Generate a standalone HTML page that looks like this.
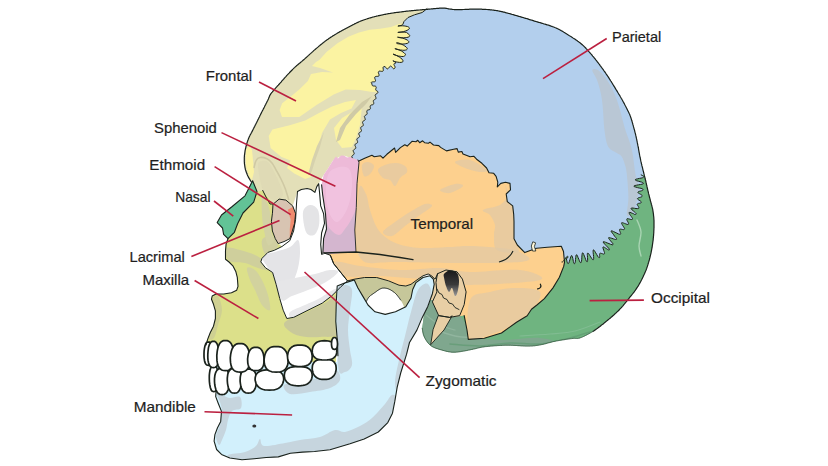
<!DOCTYPE html>
<html><head><meta charset="utf-8"><style>
html,body{margin:0;padding:0;background:#fff;}
svg{display:block;}
text{font-family:"Liberation Sans",sans-serif;font-size:15px;fill:#1e1e1e;stroke:#1e1e1e;stroke-width:0.22px;}
</style></head><body>
<svg width="828" height="466" viewBox="0 0 828 466">
<defs><clipPath id="c1"><path d="M426,9.4L426.7,9.3L427.5,9.3L428.3,9.2L429,9.1L429.8,9.1L430.6,9L431.4,8.9L432.1,8.8L432.9,8.8L433.7,8.7L434.5,8.6L435.2,8.6L436,8.5L436.7,8.4L437.4,8.4L438.2,8.3L438.8,8.3L439.5,8.2L440.2,8.2L440.8,8.2L441.4,8.1L442,8.1L442.5,8.1L443.5,8.1L444.4,8.1L445.2,8.2L445.9,8.3L446.6,8.4L447.2,8.5L447.8,8.7L448.3,8.8L448.9,8.9L449.5,9L450.2,9.1L450.9,9.2L451.5,9.2L452,9.3L452.5,9.4L453.1,9.5L453.7,9.5L454.3,9.6L455,9.6L455.9,9.7L456.9,9.7L458,9.7L458.5,9.7L459.1,9.7L459.6,9.7L460.2,9.7L460.9,9.6L461.5,9.6L462.2,9.6L462.9,9.5L463.6,9.5L464.3,9.5L465,9.4L465.8,9.4L466.5,9.4L467.3,9.3L468.1,9.3L468.9,9.3L469.7,9.2L470.4,9.2L471.2,9.2L472,9.1L472.8,9.1L473.6,9.1L474.3,9.1L475.1,9.1L475.8,9.1L476.6,9.1L477.3,9.1L478,9.1L478.7,9.1L479.4,9.2L480.2,9.2L480.9,9.2L481.6,9.2L482.3,9.3L483,9.3L483.7,9.3L484.4,9.4L485.2,9.4L485.9,9.4L486.6,9.5L487.3,9.5L488,9.6L488.7,9.6L489.4,9.7L490.2,9.8L490.9,9.8L491.6,9.9L492.3,10L493,10.1L493.7,10.2L494.5,10.3L495.2,10.4L495.9,10.5L496.6,10.6L497.3,10.7L498,10.8L498.7,11L499.4,11.1L500.1,11.3L500.8,11.4L501.4,11.6L502.1,11.7L502.8,11.9L503.5,12.1L504.2,12.2L504.9,12.4L505.6,12.6L506.3,12.8L507,13L507.7,13.2L508.4,13.4L509.1,13.5L509.8,13.7L510.5,13.9L511.2,14.1L511.8,14.3L512.5,14.5L513.2,14.7L513.9,14.9L514.6,15.1L515.3,15.3L516,15.5L516.7,15.7L517.4,15.9L518.1,16.1L518.8,16.3L519.4,16.5L520.1,16.7L520.8,16.9L521.5,17.1L522.2,17.3L522.9,17.5L523.6,17.7L524.2,17.9L524.9,18.1L525.6,18.3L526.3,18.5L527,18.7L527.7,18.9L528.4,19.1L529,19.4L529.7,19.6L530.4,19.8L531.1,20L531.8,20.2L532.5,20.4L533.2,20.6L533.9,20.9L534.6,21.1L535.3,21.3L536,21.5L536.6,21.7L537.3,21.9L538,22.1L538.7,22.3L539.4,22.5L540.1,22.7L540.8,22.9L541.5,23.1L542.2,23.3L542.9,23.5L543.6,23.8L544.3,24L545,24.2L545.7,24.4L546.4,24.6L547.1,24.8L547.8,25L548.5,25.2L549.2,25.4L549.8,25.7L550.5,25.9L551.1,26.1L551.8,26.3L552.4,26.6L553,26.8L553.6,27L554.2,27.2L554.8,27.5L555.4,27.7L556.2,28L556.9,28.4L557.6,28.7L558.3,29L559,29.4L559.6,29.7L560.3,30.1L560.9,30.4L561.5,30.8L562.1,31.1L562.7,31.5L563.3,31.8L563.9,32.2L564.5,32.5L565.1,32.9L565.6,33.3L566.2,33.6L566.7,34L567.3,34.3L567.9,34.7L568.4,35L569,35.4L569.7,35.8L570.3,36.2L571,36.6L571.6,37L572.3,37.4L572.9,37.9L573.5,38.3L574.2,38.7L574.8,39.1L575.4,39.5L576,39.9L576.6,40.3L577.2,40.7L577.8,41.2L578.4,41.6L578.9,42L579.5,42.4L580,42.8L580.5,43.2L581.1,43.7L581.7,44.2L582.3,44.7L582.8,45.2L583.3,45.6L583.8,46.1L584.3,46.6L584.8,47.1L585.2,47.5L585.7,48L586.2,48.6L586.7,49.1L587.2,49.7L587.7,50.3L588.3,50.9L588.7,51.4L589.1,51.8L589.6,52.3L590,52.8L590.5,53.4L590.9,53.9L591.4,54.4L591.8,54.9L592.3,55.5L592.7,56.1L593.2,56.6L593.7,57.2L594.2,57.8L594.6,58.3L595.1,58.9L595.6,59.5L596,60.1L596.5,60.7L597,61.3L597.4,61.9L597.9,62.5L598.3,63L598.7,63.6L599.2,64.2L599.6,64.7L600,65.3L600.4,65.8L600.8,66.4L601.3,67L601.7,67.6L602.1,68.1L602.5,68.7L603,69.3L603.4,69.9L603.8,70.5L604.2,71.1L604.7,71.7L605.1,72.3L605.5,72.9L605.9,73.5L606.3,74.1L606.8,74.8L607.2,75.4L607.6,76L608,76.6L608.4,77.2L608.8,77.8L609.2,78.4L609.6,79.1L610,79.7L610.4,80.4L610.8,81L611.3,81.7L611.7,82.4L612.1,83L612.5,83.7L612.9,84.4L613.3,85L613.7,85.7L614.1,86.3L614.5,86.9L614.9,87.6L615.2,88.2L615.6,88.8L615.9,89.3L616.3,89.9L616.6,90.4L616.9,90.9L617.2,91.4L617.7,92.3L618.2,93L618.6,93.8L619,94.4L619.4,95L619.8,95.6L620.1,96.2L620.4,96.7L620.7,97.2L621,97.8L621.3,98.3L621.7,98.9L622,99.5L622.4,100.1L622.7,100.8L623.1,101.4L623.4,102.1L623.8,102.7L624.1,103.4L624.5,104L624.8,104.7L625.1,105.3L625.5,106L625.8,106.6L626.2,107.3L626.5,108L626.8,108.6L627.1,109.2L627.4,109.8L627.7,110.4L628,111L628.3,111.6L628.6,112.2L628.9,112.8L629.2,113.5L629.5,114.1L629.8,114.8L630.1,115.6L630.4,116.4L630.7,117.2L630.9,117.8L631.1,118.4L631.3,119L631.5,119.6L631.7,120.3L631.9,120.9L632.1,121.6L632.3,122.3L632.5,123L632.7,123.7L632.9,124.5L633.1,125.2L633.3,125.9L633.5,126.7L633.7,127.4L633.9,128.1L634.1,128.8L634.3,129.5L634.5,130.2L634.7,130.9L634.8,131.6L635,132.2L635.2,133L635.4,133.7L635.6,134.5L635.7,135.2L635.9,135.9L636.1,136.6L636.2,137.3L636.4,138L636.5,138.7L636.7,139.4L636.8,140.1L637,140.8L637.1,141.5L637.2,142.2L637.4,142.9L637.5,143.6L637.7,144.3L637.8,145L637.9,145.7L638.1,146.4L638.2,147.2L638.4,147.9L638.5,148.6L638.6,149.4L638.7,150.1L638.9,150.8L639,151.6L639.1,152.3L639.3,153L639.4,153.7L639.5,154.5L639.6,155.2L639.8,155.9L639.9,156.6L640.1,157.3L640.2,158L640.4,158.7L640.5,159.5L640.7,160.2L640.8,160.9L641,161.7L641.2,162.4L641.3,163.1L641.5,163.8L641.7,164.5L641.8,165.3L642,166L642.2,166.6L642.4,167.3L642.5,168L642.7,168.7L642.8,169.3L643,170L643.2,170.8L643.4,171.5L643.6,172.3L643.7,173L643.9,173.7L644.1,174.4L644.3,175.1L641.2,174.9L642,175.3L642.8,175.8L643.4,176.2L643.7,176.6L643.7,177L643.4,177.4L642.4,177.8L641.1,178.1L639.4,178.4L637.7,178.8L636.3,179.1L635.4,179.5L635.2,179.9L635.7,180.3L636.8,180.8L638.3,181.2L640,181.7L641.6,182.1L642.7,182.6L643.4,183L643.5,183.4L643.1,183.8L642,184.2L640.4,184.5L638.5,184.8L636.6,185.2L635.1,185.5L634.1,185.9L633.9,186.3L634.5,186.7L635.8,187.1L637.5,187.6L639.4,188.1L641.1,188.3L642.4,188.9L643.1,189.4L643.1,189.8L642.8,190.2L642.2,190.5L641.4,190.8L640.3,191.1L639.3,191.3L638.5,191.6L638,192L637.8,192.3L638.1,192.8L638.7,193.3L639.6,193.8L640.5,194.3L641.4,194.8L642,195.3L642.3,195.8L642.3,196.2L642,196.5L641.4,196.9L640.6,197.2L639.7,197.4L638.8,197.7L638,198L637.6,198.4L637.4,198.8L637.7,199.2L638.3,199.7L639,200.2L639.9,200.7L640.6,201.2L641.2,201.7L641.4,202.1L641.3,202.5L641,202.8L640.5,203L639.9,203.2L639.1,203.3L638.4,203.4L637.9,203.6L637.4,203.9L637.2,204.2L637.3,204.7L637.5,205.2L637.9,205.8L638.3,206.4L638.6,207L638.8,207.5L638.8,208L638.7,208.4L638.2,208.6L637.3,208.6L636,208.5L634.5,208.3L633.1,208.1L632,208L631.2,208.2L631,208.5L631.4,209.1L632.1,209.9L633.2,210.8L634.3,211.7L635.3,212.6L636,213.3L636.2,213.9L636.1,214.2L635.6,214.4L634.7,214.5L633.7,213.8L632.3,213.3L631.1,212.8L630,212.4L629.3,212.4L629,212.7L629.2,213.3L629.7,214.3L630.5,215.4L631.3,216.5L632,217.6L632.5,218.5L632.5,219L632.3,219.4L631.8,219.5L631.1,219.5L630.2,219.3L629.3,219L628.3,218.8L627.5,218.6L627,218.7L626.7,219L626.8,219.6L627,220.3L627.5,221.2L628,222.1L628.4,222.9L628.6,223.6L628.6,224.1L628.3,224.4L627.8,224.5L626.9,224.3L625.8,223.9L624.5,223.4L623.4,223L622.4,222.7L621.7,222.7L621.5,223.1L621.7,223.7L622.2,224.6L622.8,225.7L623.6,226.8L624.2,227.8L624.6,228.6L624.6,229.1L624.3,229.4L623.9,229.6L623.3,229.6L622.5,229.5L621.7,229.3L620.9,229.2L620.2,229.2L619.7,229.3L619.5,229.6L619.5,230.2L619.7,230.8L620,231.6L620.3,232.4L620.6,233.1L620.7,233.7L620.6,234.1L620.3,234.4L619.6,234.3L618.3,233.9L616.8,233.1L615.1,232.3L613.4,231.5L612.1,230.9L611.3,230.8L611.1,231.2L611.6,232L612.4,233.2L613.6,234.7L614.7,236.4L615.8,237.6L616.5,238.6L616.7,239.2L616.4,239.5L615.7,239.5L614.7,239.3L613.3,238.8L611.8,238.3L610.4,237.9L609.3,237.6L608.7,237.6L608.5,238L608.9,238.7L609.6,239.7L610.6,240.9L611.6,242.1L612.5,243.1L613,243.9L613,244.5L612.7,244.8L612,244.7L610.6,244.3L609,243.6L607.1,242.9L605.4,242.2L604.1,241.8L603.3,241.7L603.2,242.1L603.7,243L604.8,244.2L606.1,245.6L607.5,247L608.6,248.2L609.3,249.2L609.4,249.8L609.1,250L608.5,249.9L607.7,249.5L606.7,248.8L605.6,248.1L604.5,247.4L603.7,247L603.1,246.9L602.9,247.2L603,248L603.3,249L603.7,250.2L604.1,251.4L604.5,252.5L604.6,253.3L604.4,253.8L604.1,254L603.6,254.1L603,254L602.4,253.7L601.7,253.5L601,253.3L600.4,253.2L600,253.3L599.7,253.6L599.6,254.1L599.6,254.7L599.6,255.5L599.7,256.2L599.7,256.9L599.6,257.4L599.4,257.7L599,257.8L598.4,257.2L597.6,256.1L596.7,254.5L595.7,252.8L594.8,251.3L594,250.2L593.5,249.8L593.2,250.1L593.1,251.2L593.2,252.8L593.4,254.7L593.6,256.6L593.7,258.2L593.6,259.3L593.3,259.8L592.9,259.8L592.3,259.3L591.6,258.3L590.7,256.9L589.8,255.5L589,254.2L588.3,253.3L587.8,253L587.5,253.3L587.3,254.3L587.4,255.7L587.5,257.4L587.6,259L587.6,260.4L587.5,261.4L587.2,261.8L586.8,261.7L586.3,261L585.7,259.7L585.1,257.9L584.4,256.1L583.7,254.4L583.2,253.2L582.7,252.8L582.3,253.1L582.1,254.2L581.9,255.9L581.8,257.9L581.7,259.8L581.5,261.4L581.2,262.4L580.9,262.8L580.5,262.7L580,262L579.4,260.8L578.8,259.2L578.1,257.6L577.5,256.1L577,255.1L576.5,254.7L576.1,255.1L575.9,256.1L575.7,257.6L575.5,259.4L575.4,261.1L575.2,262.5L574.9,263.4L574.5,263.7L574.1,263.6L573.8,262.9L573.4,261.6L573.1,260L572.8,258.4L572.4,256.9L572,255.9L571.7,255.5L571.2,255.8L570.8,256.7L570.4,258.1L569.9,259.7L569.4,261.3L569,262.6L568.6,263.3L568.1,263.6L567.7,263.4L567.4,262.7L567,261.6L566.7,260.1L566.3,258.6L567.9,257.6L567.9,256.7L567.6,256.2L567.1,256.4L566.4,257L565.6,258.1L564.7,259.3L563.8,260.5L563.1,261.4L562.4,262L562,262L560,262L540,258L515,250L505,200L490,180L440,170L400,170L356,170L352,158L352.4,157.8L351.9,157.1L351.8,156.6L351.9,156L352.3,155.6L352.9,155.1L353.5,154.7L354,154.3L354.2,153.8L354.2,153.2L353.9,152.6L353.6,152L353.3,151.3L353.2,150.7L353.3,150.2L353.7,149.8L354.3,149.4L354.9,149L355.4,148.6L355.8,148.2L355.8,147.7L355.7,147.1L355.4,146.4L355.1,145.8L354.9,145.2L355,144.7L355.2,144.2L355.7,143.9L356.3,143.5L356.9,143.2L357.4,142.8L357.6,142.4L357.7,141.9L357.5,141.3L357.3,140.7L357,140.1L356.8,139.5L356.9,139L357.2,138.5L357.7,138.2L358.2,137.8L358.8,137.5L359.3,137.1L359.6,136.7L359.6,136.2L359.5,135.6L359.2,135L358.9,134.4L358.8,133.8L358.8,133.3L359.1,132.8L359.6,132.5L360.2,132.1L360.8,131.8L361.2,131.4L361.5,131L361.5,130.5L361.3,129.9L361,129.2L360.8,128.6L360.6,128.1L360.7,127.5L361,127.1L361.5,126.7L362.1,126.4L362.7,126.1L363.1,125.7L363.3,125.2L363.3,124.7L363.2,124.1L362.9,123.5L362.6,122.9L362.5,122.3L362.6,121.8L362.9,121.4L363.4,121L364,120.7L364.6,120.3L365,120L365.3,119.5L365.2,119L365,118.4L364.8,117.7L364.5,117.1L364.4,116.6L364.5,116.1L364.9,115.7L365.4,115.3L366,115L366.6,114.6L367,114.2L367.2,113.8L367.1,113.2L367,112.7L366.9,112.1L366.8,111.4L366.9,110.8L367.2,110.4L367.6,110.1L368.3,109.9L368.9,109.8L369.5,109.6L370,109.3L370.3,108.9L370.4,108.3L370.3,107.7L370.2,107L370.2,106.4L370.3,105.8L370.6,105.4L371,105.1L371.7,104.9L372.3,104.8L372.9,104.6L373.4,104.3L373.7,103.8L373.7,103.3L373.7,102.6L373.6,101.9L373.3,101.4L373.3,100.8L373.5,100.4L374,100L374.6,99.6L375.2,99.3L375.7,98.9L376,98.4L376,97.9L375.8,97.3L375.6,96.6L375.3,96L375.1,95.4L375.2,94.9L375.6,94.4L376.1,94.1L376.7,93.7L377.3,93.4L377.7,93L377.9,92.5L377.8,91.9L377.6,91.3L376.9,90.9L376.3,90.6L375.9,90.2L375.7,89.7L375.8,89.1L375.9,88.5L376.1,87.8L376.3,87.2L375.9,86.5L375.5,86.2L374.9,86.1L374.2,86L373.5,86L372.9,85.9L372.4,85.6L372.2,85.2L372,84.6L372,83.9L371.2,82.7L371.4,82.3L371.9,82L372.6,81.9L373.5,81.8L374.3,81.8L374.9,81.6L375.4,81.3L375.5,80.8L375.5,80.1L375.2,79.4L374.9,78.6L374.7,77.8L374.7,77.2L375,76.8L375.6,76.6L376.3,76.4L377.1,76.4L377.9,76.3L378.6,76.1L379,75.8L379.1,75.3L379,74.6L378.7,73.8L378.5,73L378.3,72.3L378.6,71.6L379,71.2L379.6,71.1L380.4,71.2L381.3,71.3L382.1,71.4L382.7,71.3L383.1,71L383.3,70.4L383.3,69.7L383.2,68.9L383.1,68L383.1,67.3L383.4,66.9L383.8,66.6L385.2,66.7L385.7,67.4L386.2,68L386.7,68.6L387.2,68.9L387.7,68.8L388.2,68.5L388.7,67.9L389.2,67.2L389.8,66.6L390.3,66.2L390.8,66.1L391.3,66.3L391.8,66.8L392.3,67.5L392.8,68.1L393.3,68.6L393.8,68.9L395.2,67.6L395.1,67L394.8,66.3L394.4,65.6L394.1,64.8L393.9,64.2L394.1,63.7L394.5,63.4L395.2,63.2L396,63L395.4,62.3L394.6,61.7L393.8,61.2L393.2,60.9L392.9,60.8L393.2,61L394.4,61.4L396.1,61.9L397.9,62.2L399.6,62.4L401.1,62.4L402.2,62.1L402.9,61.7L403.1,61L402.8,60.2L402.1,59.2L400.9,58.2L399.5,57.2L398,56.3L396.4,55.4L395.1,54.8L394,54.4L393.2,54.1L393,54.1L393.3,54.3L394,54.7L395.2,55.1L396.7,55.6L398.4,56L400.2,56.3L401.9,56.5L403.4,56.5L404.7,55.8L405.3,55.3L405.5,54.6L405.1,53.8L404.3,53L403,52L401.6,51.1L399.9,50.3L398.3,49.6L396.9,49.1L395.8,48.8L395.1,48.6L394.9,48.6L395.1,48.8L395.9,49.1L397.2,49.4L398.7,49.8L400.5,50L402.3,50.2L404,50.3L405.4,50.1L406.5,49.8L407.1,49.3L407.3,48.6L406.9,47.8L406,46.9L404.8,46L403.3,45.1L401.7,44.3L400.1,43.6L398.7,43L397.6,42.7L396.9,42.6L396.7,42.6L396.9,43.6L397.7,43.7L399,43.9L400.5,44L402.3,44L404.1,44L405.8,43.7L407.2,43.4L408.3,42.9L408.8,42.3L408.8,41.6L408.3,40.9L407.3,40.1L406,39.4L404.3,38.7L402.6,38.1L400.9,37.7L399.5,37.4L398.3,37.2L397.6,37.1L397.5,37.2L397.8,37.3L398.7,37.5L399.9,37.7L401.5,37.8L403.3,37.8L405.1,37.7L406.8,37.5L408.2,37.2L409.2,36.7L409.7,36.1L409.7,35.4L409.2,34.6L408.2,33.8L406.5,32.4L404.8,32.2L403,32.1L401.3,32L399.8,32.1L398.6,32.2L398,32.3L397.8,32.5L398.2,32.5L399.1,32.4L400.4,32.3L402,32L403.7,31.6L405.4,31L407,30.4L408.3,29.7L409.1,29L409.4,28.3L409.2,27.6L408.5,27L407.4,26.5L405.9,26.2L404.1,25.9L402.3,25.8L400.6,25.8L399.1,25.8L398,26L397.9,26.1L398.7,26L399.8,25.8L401,25.5L402.1,25L402.8,24.5L403,24L404,21.5L408,17.5L414.5,14.8L422.2,12.5L427,8.7Z"/></clipPath><clipPath id="c2"><path d="M644.3,175.1L644.4,175.7L644.6,176.4L644.8,177.1L645,177.8L645.1,178.5L645.3,179.3L645.5,180L645.7,180.7L645.8,181.3L646,182L646.1,182.7L646.3,183.4L646.4,184.1L646.6,184.8L646.8,185.5L646.9,186.2L647.1,186.9L647.2,187.6L647.4,188.3L647.5,189L647.7,189.7L647.8,190.3L648,191L648.2,191.7L648.4,192.5L648.5,193.2L648.7,194L648.9,194.7L649.1,195.4L649.3,196.1L649.4,196.8L649.6,197.5L649.8,198.2L650,198.9L650.2,199.6L650.3,200.3L650.5,201L650.7,201.7L650.9,202.4L651.1,203.1L651.3,203.7L651.4,204.4L651.6,205L651.8,205.7L652,206.4L652.2,207L652.3,207.7L652.5,208.5L652.7,209.2L652.8,210L652.9,210.6L653,211.2L653.1,211.9L653.2,212.5L653.3,213.2L653.4,213.8L653.5,214.5L653.5,215.2L653.6,215.9L653.7,216.6L653.8,217.3L653.8,218.1L653.9,218.8L653.9,219.6L654,220.4L654,221.2L654,222L654,222.6L654,223.3L654,223.9L654,224.6L654,225.2L654,225.9L654,226.6L654,227.3L654,228L653.9,228.8L653.9,229.5L653.9,230.2L653.8,230.9L653.8,231.7L653.8,232.4L653.7,233.1L653.7,233.9L653.6,234.6L653.6,235.3L653.5,236.1L653.4,236.8L653.4,237.5L653.3,238.2L653.2,238.9L653.2,239.6L653.1,240.3L653,241L652.9,241.7L652.8,242.4L652.7,243.1L652.6,243.8L652.5,244.5L652.4,245.2L652.3,245.9L652.2,246.6L652.1,247.3L652,248L651.8,248.7L651.7,249.4L651.6,250.1L651.4,250.8L651.3,251.5L651.2,252.2L651,252.9L650.9,253.6L650.7,254.3L650.5,255L650.4,255.6L650.2,256.3L650.1,257L649.9,257.7L649.7,258.3L649.6,259L649.4,259.7L649.2,260.3L649,261L648.8,261.7L648.6,262.4L648.4,263L648.2,263.7L648,264.4L647.8,265L647.6,265.7L647.4,266.4L647.1,267.1L646.9,267.7L646.7,268.4L646.4,269.1L646.2,269.7L645.9,270.4L645.6,271L645.4,271.7L645.1,272.3L644.8,273L644.5,273.7L644.2,274.3L643.9,275L643.6,275.6L643.3,276.3L643,277L642.7,277.6L642.4,278.3L642,278.9L641.7,279.6L641.4,280.2L641,280.9L640.7,281.5L640.4,282.1L640,282.8L639.7,283.4L639.3,284L639,284.6L638.6,285.2L638.3,285.8L637.9,286.4L637.5,287L637.1,287.6L636.7,288.2L636.3,288.8L635.9,289.4L635.5,290L635.1,290.6L634.6,291.2L634.2,291.8L633.8,292.3L633.4,292.9L632.9,293.4L632.5,294L632.1,294.5L631.6,295.1L631.2,295.6L630.8,296.1L630.3,296.7L629.9,297.2L629.5,297.7L629,298.3L628.6,298.8L628.2,299.3L627.7,299.9L627.3,300.4L626.9,301L626.4,301.5L626,302.1L625.5,302.6L625.1,303.2L624.7,303.7L624.3,304.2L623.8,304.7L623.4,305.3L622.9,305.8L622.5,306.3L622,306.8L621.6,307.3L621.1,307.9L620.6,308.4L620.1,308.9L619.6,309.4L619.1,310L618.6,310.5L618.1,311L617.6,311.4L617.1,311.9L616.6,312.4L616.1,312.9L615.6,313.4L615.1,313.8L614.5,314.3L614,314.8L613.5,315.3L612.9,315.8L612.4,316.2L611.8,316.7L611.2,317.2L610.7,317.7L610.1,318.2L609.6,318.6L609,319.1L608.4,319.6L607.9,320L607.3,320.5L606.8,320.9L606.2,321.4L605.7,321.8L605.1,322.3L604.5,322.7L604,323.2L603.4,323.7L602.8,324.2L602.2,324.6L601.6,325.1L601,325.5L600.5,326L599.9,326.5L599.3,326.9L598.7,327.3L598.1,327.8L597.6,328.2L597,328.6L596.4,329.1L595.8,329.5L595.2,329.9L594.6,330.3L594.1,330.7L593.5,331L592.9,331.4L592.3,331.8L591.6,332.2L590.9,332.6L590.2,333L589.6,333.4L588.9,333.8L588.2,334.1L587.5,334.5L586.8,334.9L586.1,335.2L585.5,335.5L584.8,335.9L584.1,336.2L583.5,336.5L582.9,336.8L582.3,337L581.7,337.3L581.1,337.5L580.5,337.7L580,337.9L579.1,338.2L578.4,338.3L577.8,338.4L577.2,338.5L576.7,338.4L576.1,338.4L575.5,338.4L574.9,338.3L574.1,338.3L573.3,338.4L572.2,338.5L571.7,338.6L571.1,338.6L570.5,338.7L569.9,338.8L569.3,338.9L568.6,339L567.9,339.1L567.2,339.2L566.5,339.3L565.7,339.4L565,339.6L564.2,339.7L563.4,339.8L562.7,339.9L561.9,340L561.1,340.2L560.4,340.3L559.6,340.4L558.9,340.5L558.2,340.7L557.4,340.8L556.7,340.9L556.1,341.1L555.4,341.2L554.8,341.3L554,341.5L553.2,341.6L552.5,341.8L551.8,342L551,342.2L550.3,342.4L549.7,342.6L549,342.7L548.3,342.9L547.6,343.1L547,343.3L546.3,343.5L545.7,343.7L545,343.8L544.4,344L543.7,344.2L543.1,344.3L542.4,344.5L541.7,344.6L541,344.7L540.3,344.9L539.6,345L539,345.1L538.3,345.2L537.7,345.3L537,345.4L536.4,345.5L535.7,345.6L535.1,345.7L534.4,345.8L533.7,345.8L532.9,345.9L532.2,346L531.4,346L530.5,346L529.6,346.1L528.7,346.1L528.1,346.1L527.5,346.1L526.9,346.1L526.3,346.1L525.7,346.1L525,346L524.4,346L523.7,346L523,345.9L522.3,345.9L521.6,345.9L520.9,345.8L520.2,345.8L519.5,345.7L518.8,345.7L518,345.6L517.3,345.6L516.6,345.5L515.8,345.5L515.1,345.4L514.3,345.4L513.6,345.4L512.8,345.3L512.1,345.3L511.3,345.3L510.6,345.2L509.9,345.2L509.1,345.2L508.4,345.2L507.7,345.2L507,345.2L506.3,345.2L505.6,345.2L504.8,345.2L504.1,345.3L503.4,345.3L502.6,345.3L501.9,345.4L501.1,345.4L500.4,345.4L499.6,345.5L498.8,345.5L498.1,345.6L497.3,345.6L496.6,345.7L495.8,345.7L495.1,345.8L494.3,345.8L493.6,345.9L492.9,346L492.1,346L491.4,346.1L490.7,346.1L490.1,346.2L489.4,346.3L488.7,346.3L488.1,346.4L487.5,346.5L486.9,346.5L486.3,346.6L485.7,346.6L485.2,346.7L484.2,346.8L483.2,347L482.3,347.1L481.5,347.2L480.8,347.4L480.1,347.5L479.4,347.7L478.7,347.8L478.1,348L477.5,348.1L476.9,348.3L476.3,348.4L475.7,348.6L475,348.8L474.3,348.9L473.6,349L472.9,349.2L472.1,349.4L471.4,349.5L470.7,349.7L470,349.8L469.3,350L468.5,350.1L467.8,350.3L467.1,350.4L466.4,350.6L465.7,350.7L464.9,350.9L464.2,351L463.5,351.1L462.8,351.2L462.1,351.3L461.3,351.4L460.6,351.6L459.9,351.7L459.1,351.8L458.4,351.9L457.7,352L457,352.1L456.2,352.1L455.5,352.2L454.8,352.2L454.1,352.2L453.3,352.2L452.6,352.2L451.9,352.2L451.1,352.1L450.4,352L449.7,351.9L449,351.8L448.2,351.7L447.5,351.5L446.8,351.4L446.1,351.2L445.3,351L444.6,350.8L443.9,350.6L443.1,350.4L442.4,350.2L441.7,350L441,349.8L440.3,349.6L439.6,349.4L438.9,349.2L438.2,349L437.5,348.7L436.7,348.5L436,348.3L435.3,348L434.6,347.7L434,347.4L433.3,347.1L432.7,346.8L432,346.5L431.5,346.1L430.9,345.7L430.3,345.2L429.8,344.8L429.2,344.2L428.7,343.7L428.2,343.1L427.7,342.5L427.3,341.9L426.8,341.3L426.4,340.7L426,340.1L425.6,339.4L425.3,338.8L424.9,338.2L424.6,337.6L424.3,337L424,336.2L423.7,335.4L423.4,334.6L423.2,333.8L423,332.9L422.8,332.1L422.7,331.3L422.6,330.6L422.5,329.9L422.4,329.2L422.3,328.7L422.2,328.3L426,300L470,290L540,275L562,262L562.4,262L563.1,261.4L563.8,260.5L564.7,259.3L565.6,258.1L566.4,257L567.1,256.4L567.6,256.2L567.9,256.7L567.9,257.6L566.3,258.6L566.7,260.1L567,261.6L567.4,262.7L567.7,263.4L568.1,263.6L568.6,263.3L569,262.6L569.4,261.3L569.9,259.7L570.4,258.1L570.8,256.7L571.2,255.8L571.7,255.5L572,255.9L572.4,256.9L572.8,258.4L573.1,260L573.4,261.6L573.8,262.9L574.1,263.6L574.5,263.7L574.9,263.4L575.2,262.5L575.4,261.1L575.5,259.4L575.7,257.6L575.9,256.1L576.1,255.1L576.5,254.7L577,255.1L577.5,256.1L578.1,257.6L578.8,259.2L579.4,260.8L580,262L580.5,262.7L580.9,262.8L581.2,262.4L581.5,261.4L581.7,259.8L581.8,257.9L581.9,255.9L582.1,254.2L582.3,253.1L582.7,252.8L583.2,253.2L583.7,254.4L584.4,256.1L585.1,257.9L585.7,259.7L586.3,261L586.8,261.7L587.2,261.8L587.5,261.4L587.6,260.4L587.6,259L587.5,257.4L587.4,255.7L587.3,254.3L587.5,253.3L587.8,253L588.3,253.3L589,254.2L589.8,255.5L590.7,256.9L591.6,258.3L592.3,259.3L592.9,259.8L593.3,259.8L593.6,259.3L593.7,258.2L593.6,256.6L593.4,254.7L593.2,252.8L593.1,251.2L593.2,250.1L593.5,249.8L594,250.2L594.8,251.3L595.7,252.8L596.7,254.5L597.6,256.1L598.4,257.2L599,257.8L599.4,257.7L599.6,257.4L599.7,256.9L599.7,256.2L599.6,255.5L599.6,254.7L599.6,254.1L599.7,253.6L600,253.3L600.4,253.2L601,253.3L601.7,253.5L602.4,253.7L603,254L603.6,254.1L604.1,254L604.4,253.8L604.6,253.3L604.5,252.5L604.1,251.4L603.7,250.2L603.3,249L603,248L602.9,247.2L603.1,246.9L603.7,247L604.5,247.4L605.6,248.1L606.7,248.8L607.7,249.5L608.5,249.9L609.1,250L609.4,249.8L609.3,249.2L608.6,248.2L607.5,247L606.1,245.6L604.8,244.2L603.7,243L603.2,242.1L603.3,241.7L604.1,241.8L605.4,242.2L607.1,242.9L609,243.6L610.6,244.3L612,244.7L612.7,244.8L613,244.5L613,243.9L612.5,243.1L611.6,242.1L610.6,240.9L609.6,239.7L608.9,238.7L608.5,238L608.7,237.6L609.3,237.6L610.4,237.9L611.8,238.3L613.3,238.8L614.7,239.3L615.7,239.5L616.4,239.5L616.7,239.2L616.5,238.6L615.8,237.6L614.7,236.4L613.6,234.7L612.4,233.2L611.6,232L611.1,231.2L611.3,230.8L612.1,230.9L613.4,231.5L615.1,232.3L616.8,233.1L618.3,233.9L619.6,234.3L620.3,234.4L620.6,234.1L620.7,233.7L620.6,233.1L620.3,232.4L620,231.6L619.7,230.8L619.5,230.2L619.5,229.6L619.7,229.3L620.2,229.2L620.9,229.2L621.7,229.3L622.5,229.5L623.3,229.6L623.9,229.6L624.3,229.4L624.6,229.1L624.6,228.6L624.2,227.8L623.6,226.8L622.8,225.7L622.2,224.6L621.7,223.7L621.5,223.1L621.7,222.7L622.4,222.7L623.4,223L624.5,223.4L625.8,223.9L626.9,224.3L627.8,224.5L628.3,224.4L628.6,224.1L628.6,223.6L628.4,222.9L628,222.1L627.5,221.2L627,220.3L626.8,219.6L626.7,219L627,218.7L627.5,218.6L628.3,218.8L629.3,219L630.2,219.3L631.1,219.5L631.8,219.5L632.3,219.4L632.5,219L632.5,218.5L632,217.6L631.3,216.5L630.5,215.4L629.7,214.3L629.2,213.3L629,212.7L629.3,212.4L630,212.4L631.1,212.8L632.3,213.3L633.7,213.8L634.7,214.5L635.6,214.4L636.1,214.2L636.2,213.9L636,213.3L635.3,212.6L634.3,211.7L633.2,210.8L632.1,209.9L631.4,209.1L631,208.5L631.2,208.2L632,208L633.1,208.1L634.5,208.3L636,208.5L637.3,208.6L638.2,208.6L638.7,208.4L638.8,208L638.8,207.5L638.6,207L638.3,206.4L637.9,205.8L637.5,205.2L637.3,204.7L637.2,204.2L637.4,203.9L637.9,203.6L638.4,203.4L639.1,203.3L639.9,203.2L640.5,203L641,202.8L641.3,202.5L641.4,202.1L641.2,201.7L640.6,201.2L639.9,200.7L639,200.2L638.3,199.7L637.7,199.2L637.4,198.8L637.6,198.4L638,198L638.8,197.7L639.7,197.4L640.6,197.2L641.4,196.9L642,196.5L642.3,196.2L642.3,195.8L642,195.3L641.4,194.8L640.5,194.3L639.6,193.8L638.7,193.3L638.1,192.8L637.8,192.3L638,192L638.5,191.6L639.3,191.3L640.3,191.1L641.4,190.8L642.2,190.5L642.8,190.2L643.1,189.8L643.1,189.4L642.4,188.9L641.1,188.3L639.4,188.1L637.5,187.6L635.8,187.1L634.5,186.7L633.9,186.3L634.1,185.9L635.1,185.5L636.6,185.2L638.5,184.8L640.4,184.5L642,184.2L643.1,183.8L643.5,183.4L643.4,183L642.7,182.6L641.6,182.1L640,181.7L638.3,181.2L636.8,180.8L635.7,180.3L635.2,179.9L635.4,179.5L636.3,179.1L637.7,178.8L639.4,178.4L641.1,178.1L642.4,177.8L643.4,177.4L643.7,177L643.7,176.6L643.4,176.2L642.8,175.8L642,175.3L641.2,174.9Z"/></clipPath><clipPath id="c3"><path d="M251.2,181.8L251,181.4L250.7,181L250.4,180.4L250,179.8L249.6,179.1L249.1,178.4L248.7,177.6L248.3,176.9L247.9,176.1L247.6,175.4L247.3,174.8L247,174.1L246.8,173.4L246.5,172.7L246.2,172.1L246,171.3L245.8,170.6L245.5,169.9L245.3,169.1L245.2,168.4L245,167.6L244.9,166.9L244.8,166.2L244.7,165.5L244.6,164.8L244.5,164L244.4,163.3L244.4,162.5L244.3,161.8L244.3,161L244.3,160.3L244.3,159.5L244.3,158.7L244.3,158L244.3,157.3L244.4,156.5L244.4,155.8L244.5,155L244.6,154.3L244.7,153.5L244.8,152.8L244.9,152L245,151.3L245.1,150.5L245.3,149.8L245.4,149L245.6,148.3L245.8,147.6L245.9,146.9L246.1,146.2L246.3,145.5L246.5,144.8L246.7,144L246.9,143.3L247.1,142.6L247.3,141.9L247.6,141.2L247.8,140.5L248,139.9L248.3,139.2L248.5,138.6L248.8,137.9L249.1,137.2L249.4,136.6L249.7,136L250,135.3L250.3,134.7L250.7,134.1L251,133.5L251.3,132.9L251.7,132.3L252,131.6L252.4,130.9L252.7,130.3L253,129.7L253.3,129.1L253.6,128.5L253.9,127.8L254.3,127.2L254.6,126.6L254.9,125.9L255.2,125.2L255.6,124.6L255.9,123.9L256.2,123.3L256.6,122.6L256.9,121.9L257.2,121.3L257.5,120.7L257.8,120L258.1,119.4L258.5,118.8L258.8,118.1L259.1,117.5L259.4,116.9L259.7,116.3L260,115.6L260.3,115L260.6,114.3L261,113.7L261.3,113L261.6,112.3L262,111.6L262.3,111L262.6,110.4L263,109.7L263.3,109L263.7,108.4L264,107.7L264.4,107L264.7,106.3L265.1,105.5L265.4,104.9L265.8,104.2L266.1,103.5L266.5,102.8L266.8,102.2L267.1,101.6L267.4,101L267.7,100.5L267.9,100L268.4,99L268.7,98.1L269,97.4L269.3,96.7L269.6,96.1L269.8,95.5L270.1,94.9L270.5,94.3L270.9,93.7L271.3,93.2L271.7,92.6L272.2,92.1L272.6,91.6L273.1,91L273.6,90.4L274.1,89.8L274.7,89.2L275.1,88.7L275.5,88.2L276,87.7L276.4,87.2L276.9,86.7L277.3,86.2L277.8,85.6L278.3,85.1L278.8,84.5L279.3,84L279.8,83.4L280.3,82.9L280.8,82.3L281.3,81.8L281.7,81.2L282.2,80.7L282.7,80.2L283.1,79.6L283.6,79.1L284.1,78.5L284.6,77.9L285.1,77.4L285.6,76.8L286.1,76.3L286.6,75.7L287.1,75.2L287.6,74.6L288.1,74.1L288.6,73.6L289.1,73.1L289.6,72.5L290.1,72L290.6,71.5L291.1,71L291.6,70.5L292.1,70L292.6,69.4L293.2,68.9L293.7,68.4L294.2,67.9L294.8,67.4L295.3,66.9L295.8,66.4L296.3,66L296.8,65.5L297.3,65.1L297.8,64.7L298.3,64.3L298.9,63.8L299.4,63.4L299.9,63L300.4,62.5L301,62.1L301.6,61.6L302.1,61.1L302.7,60.6L303.4,60.1L304,59.5L304.5,59.1L304.9,58.7L305.4,58.2L305.9,57.8L306.4,57.3L306.9,56.8L307.5,56.4L308,55.9L308.6,55.4L309.1,54.9L309.6,54.4L310.2,53.9L310.8,53.4L311.3,52.9L311.9,52.4L312.4,51.9L313,51.4L313.5,50.9L314,50.4L314.6,49.9L315.1,49.5L315.6,49L316.1,48.6L316.7,48.1L317.3,47.6L317.9,47.1L318.4,46.6L319,46.1L319.6,45.7L320.1,45.2L320.7,44.7L321.3,44.3L321.8,43.8L322.4,43.4L322.9,42.9L323.5,42.5L324,42.1L324.6,41.7L325.1,41.2L325.7,40.8L326.2,40.4L326.8,40L327.4,39.6L328,39.2L328.6,38.7L329.2,38.3L329.8,37.9L330.4,37.5L331,37.1L331.6,36.8L332.1,36.4L332.7,36L333.3,35.6L333.9,35.3L334.5,34.9L335.1,34.5L335.7,34.2L336.3,33.8L336.9,33.5L337.5,33.1L338.1,32.7L338.8,32.4L339.4,32L340,31.6L340.7,31.3L341.3,30.9L341.9,30.6L342.6,30.2L343.2,29.9L343.9,29.5L344.5,29.2L345.1,28.9L345.8,28.5L346.4,28.2L347,27.9L347.7,27.5L348.3,27.2L348.9,26.9L349.6,26.5L350.2,26.2L350.8,25.9L351.5,25.5L352.1,25.2L352.7,24.9L353.3,24.5L354,24.2L354.6,23.9L355.2,23.6L355.9,23.3L356.5,22.9L357.1,22.7L357.7,22.4L358.4,22.1L359,21.8L359.7,21.5L360.3,21.2L361,21L361.7,20.7L362.4,20.5L363,20.2L363.7,20L364.4,19.7L365,19.5L365.7,19.3L366.4,19L367.1,18.8L367.7,18.6L368.4,18.4L369,18.2L369.7,18L370.4,17.8L371.1,17.6L371.8,17.4L372.4,17.2L373.1,17L373.8,16.9L374.5,16.7L375.1,16.5L375.8,16.4L376.5,16.2L377.2,16L377.9,15.9L378.6,15.7L379.3,15.6L380,15.4L380.7,15.3L381.3,15.1L382,15L382.7,14.8L383.3,14.7L384,14.5L384.6,14.4L385.3,14.3L386,14.1L386.7,14L387.4,13.9L388.2,13.7L389,13.6L389.8,13.5L390.6,13.3L391.5,13.2L392.1,13.1L392.7,13L393.4,12.9L394,12.8L394.7,12.7L395.4,12.6L396.1,12.5L396.8,12.4L397.5,12.3L398.3,12.3L399,12.2L399.7,12.1L400.5,12L401.2,11.9L402,11.8L402.7,11.7L403.5,11.6L404.3,11.5L405,11.4L405.8,11.3L406.5,11.2L407.2,11.2L408,11.1L408.7,11L409.4,10.9L410.1,10.8L410.9,10.8L411.6,10.7L412.3,10.6L413,10.6L413.8,10.5L414.5,10.4L415.2,10.3L415.9,10.3L416.7,10.2L417.4,10.1L418.1,10.1L418.8,10L419.6,10L420.3,9.9L421,9.8L421.7,9.8L422.4,9.7L423.2,9.6L423.9,9.6L424.6,9.5L425.3,9.5L426,9.4L422.2,12.5L414.5,14.8L408,17.5L404,21.5L403,24L402.8,24.5L402.1,25L401,25.5L399.8,25.8L398.7,26L397.9,26.1L398,26L399.1,25.8L400.6,25.8L402.3,25.8L404.1,25.9L405.9,26.2L407.4,26.5L408.5,27L409.2,27.6L409.4,28.3L409.1,29L408.3,29.7L407,30.4L405.4,31L403.7,31.6L402,32L400.4,32.3L399.1,32.4L398.2,32.5L397.8,32.5L398,32.3L398.6,32.2L399.8,32.1L401.3,32L403,32.1L404.8,32.2L406.5,32.4L408.2,33.8L409.2,34.6L409.7,35.4L409.7,36.1L409.2,36.7L408.2,37.2L406.8,37.5L405.1,37.7L403.3,37.8L401.5,37.8L399.9,37.7L398.7,37.5L397.8,37.3L397.5,37.2L397.6,37.1L398.3,37.2L399.5,37.4L400.9,37.7L402.6,38.1L404.3,38.7L406,39.4L407.3,40.1L408.3,40.9L408.8,41.6L408.8,42.3L408.3,42.9L407.2,43.4L405.8,43.7L404.1,44L402.3,44L400.5,44L399,43.9L397.7,43.7L396.9,43.6L396.7,42.6L396.9,42.6L397.6,42.7L398.7,43L400.1,43.6L401.7,44.3L403.3,45.1L404.8,46L406,46.9L406.9,47.8L407.3,48.6L407.1,49.3L406.5,49.8L405.4,50.1L404,50.3L402.3,50.2L400.5,50L398.7,49.8L397.2,49.4L395.9,49.1L395.1,48.8L394.9,48.6L395.1,48.6L395.8,48.8L396.9,49.1L398.3,49.6L399.9,50.3L401.6,51.1L403,52L404.3,53L405.1,53.8L405.5,54.6L405.3,55.3L404.7,55.8L403.4,56.5L401.9,56.5L400.2,56.3L398.4,56L396.7,55.6L395.2,55.1L394,54.7L393.3,54.3L393,54.1L393.2,54.1L394,54.4L395.1,54.8L396.4,55.4L398,56.3L399.5,57.2L400.9,58.2L402.1,59.2L402.8,60.2L403.1,61L402.9,61.7L402.2,62.1L401.1,62.4L399.6,62.4L397.9,62.2L396.1,61.9L394.4,61.4L393.2,61L392.9,60.8L393.2,60.9L393.8,61.2L394.6,61.7L395.4,62.3L396,63L395.2,63.2L394.5,63.4L394.1,63.7L393.9,64.2L394.1,64.8L394.4,65.6L394.8,66.3L395.1,67L395.2,67.6L393.8,68.9L393.3,68.6L392.8,68.1L392.3,67.5L391.8,66.8L391.3,66.3L390.8,66.1L390.3,66.2L389.8,66.6L389.2,67.2L388.7,67.9L388.2,68.5L387.7,68.8L387.2,68.9L386.7,68.6L386.2,68L385.7,67.4L385.2,66.7L383.8,66.6L383.4,66.9L383.1,67.3L383.1,68L383.2,68.9L383.3,69.7L383.3,70.4L383.1,71L382.7,71.3L382.1,71.4L381.3,71.3L380.4,71.2L379.6,71.1L379,71.2L378.6,71.6L378.3,72.3L378.5,73L378.7,73.8L379,74.6L379.1,75.3L379,75.8L378.6,76.1L377.9,76.3L377.1,76.4L376.3,76.4L375.6,76.6L375,76.8L374.7,77.2L374.7,77.8L374.9,78.6L375.2,79.4L375.5,80.1L375.5,80.8L375.4,81.3L374.9,81.6L374.3,81.8L373.5,81.8L372.6,81.9L371.9,82L371.4,82.3L371.2,82.7L372,83.9L372,84.6L372.2,85.2L372.4,85.6L372.9,85.9L373.5,86L374.2,86L374.9,86.1L375.5,86.2L375.9,86.5L376.3,87.2L376.1,87.8L375.9,88.5L375.8,89.1L375.7,89.7L375.9,90.2L376.3,90.6L376.9,90.9L377.6,91.3L377.8,91.9L377.9,92.5L377.7,93L377.3,93.4L376.7,93.7L376.1,94.1L375.6,94.4L375.2,94.9L375.1,95.4L375.3,96L375.6,96.6L375.8,97.3L376,97.9L376,98.4L375.7,98.9L375.2,99.3L374.6,99.6L374,100L373.5,100.4L373.3,100.8L373.3,101.4L373.6,101.9L373.7,102.6L373.7,103.3L373.7,103.8L373.4,104.3L372.9,104.6L372.3,104.8L371.7,104.9L371,105.1L370.6,105.4L370.3,105.8L370.2,106.4L370.2,107L370.3,107.7L370.4,108.3L370.3,108.9L370,109.3L369.5,109.6L368.9,109.8L368.3,109.9L367.6,110.1L367.2,110.4L366.9,110.8L366.8,111.4L366.9,112.1L367,112.7L367.1,113.2L367.2,113.8L367,114.2L366.6,114.6L366,115L365.4,115.3L364.9,115.7L364.5,116.1L364.4,116.6L364.5,117.1L364.8,117.7L365,118.4L365.2,119L365.3,119.5L365,120L364.6,120.3L364,120.7L363.4,121L362.9,121.4L362.6,121.8L362.5,122.3L362.6,122.9L362.9,123.5L363.2,124.1L363.3,124.7L363.3,125.2L363.1,125.7L362.7,126.1L362.1,126.4L361.5,126.7L361,127.1L360.7,127.5L360.6,128.1L360.8,128.6L361,129.2L361.3,129.9L361.5,130.5L361.5,131L361.2,131.4L360.8,131.8L360.2,132.1L359.6,132.5L359.1,132.8L358.8,133.3L358.8,133.8L358.9,134.4L359.2,135L359.5,135.6L359.6,136.2L359.6,136.7L359.3,137.1L358.8,137.5L358.2,137.8L357.7,138.2L357.2,138.5L356.9,139L356.8,139.5L357,140.1L357.3,140.7L357.5,141.3L357.7,141.9L357.6,142.4L357.4,142.8L356.9,143.2L356.3,143.5L355.7,143.9L355.2,144.2L355,144.7L354.9,145.2L355.1,145.8L355.4,146.4L355.7,147.1L355.8,147.7L355.8,148.2L355.4,148.6L354.9,149L354.3,149.4L353.7,149.8L353.3,150.2L353.2,150.7L353.3,151.3L353.6,152L353.9,152.6L354.2,153.2L354.2,153.8L354,154.3L353.5,154.7L352.9,155.1L352.3,155.6L351.9,156L351.8,156.6L351.9,157.1L352.4,157.8L350.4,157.8L344.3,155.7L339.7,156.8L333.3,160L328,168.6L323.6,175L318.7,183.7L316.8,186.6L314.9,192.4L311,189.5L307.1,188.5L301.3,189.5L297.5,191.4L292.7,205.9L285.9,200.1L279.1,199.1L273.3,204L262.7,190.4L257,191.5Z"/></clipPath><clipPath id="c4"><path d="M358.9,161.1L364.7,158.2L371.9,155.3L374.3,156.7L380.6,155.8L383,158.2L386.9,154.3L394.6,148L395.6,152.4L400.4,147.6L404.8,144.7L407.2,146.1L412,141.3L415.9,141.8L417.8,140.3L419.7,142.7L422.6,140.8L424.6,142.7L428.4,143.2L430,142.1L433.5,145L438.8,145.6L440.6,147.4L446.5,150.9L453.6,149.2L457.1,148.6L458.3,152.1L461.9,151.5L463,153.9L470.1,156.8L473.7,156.2L476.6,159.2L481.9,163.3L486.6,168L489,172.8L493.7,173.3L496.1,176.3L497.8,182.2L497.3,186.9L500.8,183.4L505.5,182.2L510,183.4L510.5,189.8L506.2,194L507.3,201.6L512.7,205.9L513.7,214.5L514,221.5L514,238.7L517.3,245L524.8,252.6L530.2,250.5L536.6,248.3L547.4,247.2L561.3,246.2L563.5,251.5L564.5,262.3L563.7,266.4L559.4,277.2L553,287.9L544.4,298.6L536.9,305L531.5,309.3L527.2,315.8L516.5,322.2L501.5,333L484.3,338.3L468.3,339.4L467,330L464.2,315.6L449.7,317.4L438.7,315.6L432.4,301.9L436.9,291.9L436,282.8L437.8,273.6L435,279.2L431.6,275.8L428.2,274L423,275.8L417.9,279.2L411,284.3L405.8,286L399,285.2L388.7,280.9L376.7,277.5L364.6,277.5L354.3,279.2L347.5,280.9L340.6,272.3L333.7,263.7L330.3,255.2L324,253L356,252L354.8,230L356.3,207.3L357,183.7Z"/></clipPath><linearGradient id="gc" x1="0" y1="0" x2="0" y2="1"><stop offset="0" stop-color="#1a1a1a"/><stop offset="0.55" stop-color="#3a3a3a"/><stop offset="1" stop-color="#9a9a9a"/></linearGradient><clipPath id="c5"><path d="M333.3,160L336,156.5L338,158.5L341,155.5L344.3,155.7L347,157.5L350.4,156.8L354,158.5L358,160L359,162.2L357,183.7L356.3,207.3L354.8,230L356,252L322.8,254.2L323.6,238.7L326.5,229L325.5,213.6L322.6,194.3L321.6,184.7L323.6,175L328,168.6Z"/></clipPath><clipPath id="c6"><path d="M228,238.7L226.1,243.9L225.5,250.9L225.5,259.3L229,262L233.1,266.2L235.9,271.8L237.3,277.4L238,286.3L236.7,290.2L231.5,292.7L223.8,294L216,294L212.2,296L211.5,299.2L213.5,304.3L215.4,310.8L215.4,318.5L213.5,326.2L210.2,332.7L207.7,339.1L206,345L210,362L336,362L337,300L345,282L322.2,303.2L293.8,317.3L286.8,318.5L283.2,310.2L279.7,298.4L276.1,284.3L272.6,272.5L265.5,267.8L260.8,261.9L262,258.3L267.9,252.4L274.3,250.3L282,246.5L278.2,243.6L275.3,238.7L272.4,231L271.4,221.3L272.4,213.6L273.3,204L262.7,190.4L257,191.5L253.7,202.2L243,213L237.6,223.7L234.4,232.3Z"/></clipPath><clipPath id="c7"><path d="M297.5,191.4L301.3,189.5L307.1,188.5L311,189.5L314.9,192.4L316.8,186.6L318.7,183.7L319.7,194.3L320.7,205.9L323.6,213.6L324.5,223.3L321.6,233L320.7,244.5L321.6,254.2L324,253L330.3,255.2L333.7,263.7L340.6,272.3L347.5,280.9L341,286.6L336.3,291.4L331.6,296L322.2,303.2L308,310.2L293.8,317.3L286.8,318.5L283.2,310.2L279.7,298.4L276.1,284.3L272.6,272.5L265.5,267.8L260.8,261.9L262,258.3L267.9,252.4L274.3,250.3L282,246.5L289.8,240.7L293.6,231L295.6,219.4L296.5,204Z"/></clipPath><clipPath id="c8"><path d="M216,392L215.7,396.6L218.2,403.2L221.5,411.4L220.7,421.4L217.4,428L214.9,434.6L214.1,441.2L216.6,449.5L221.5,454.4L229.8,458L242,459.8L254.2,458.7L266.2,457.5L278.3,456.9L290.4,453.3L302.5,452.1L314.5,451.5L330,449.7L350,443.8L364.2,439.1L378.3,432L387.8,422.6L392.5,413.2L394.8,401.4L397.2,387.2L400.7,373L406.6,354.2L409.5,342.5L416.9,330.1L422.3,317.4L427.8,306.4L432.4,293.7L434.2,284.3L433.3,279.2L430,275.8L423,277.5L416,282.6L412.7,289.5L411,298L405.8,306.7L395.5,311.8L385.2,314.4L375,311.8L368,305L362.9,296.4L357.8,287.8L354.3,280L345.8,282.6L337.2,286L336.3,301.5L335.8,321.4L337.5,342.9L337.9,355.8L336.8,362L300,362L260,364L216,366Z"/></clipPath></defs>
<path d="M426,9.4L426.7,9.3L427.5,9.3L428.3,9.2L429,9.1L429.8,9.1L430.6,9L431.4,8.9L432.1,8.8L432.9,8.8L433.7,8.7L434.5,8.6L435.2,8.6L436,8.5L436.7,8.4L437.4,8.4L438.2,8.3L438.8,8.3L439.5,8.2L440.2,8.2L440.8,8.2L441.4,8.1L442,8.1L442.5,8.1L443.5,8.1L444.4,8.1L445.2,8.2L445.9,8.3L446.6,8.4L447.2,8.5L447.8,8.7L448.3,8.8L448.9,8.9L449.5,9L450.2,9.1L450.9,9.2L451.5,9.2L452,9.3L452.5,9.4L453.1,9.5L453.7,9.5L454.3,9.6L455,9.6L455.9,9.7L456.9,9.7L458,9.7L458.5,9.7L459.1,9.7L459.6,9.7L460.2,9.7L460.9,9.6L461.5,9.6L462.2,9.6L462.9,9.5L463.6,9.5L464.3,9.5L465,9.4L465.8,9.4L466.5,9.4L467.3,9.3L468.1,9.3L468.9,9.3L469.7,9.2L470.4,9.2L471.2,9.2L472,9.1L472.8,9.1L473.6,9.1L474.3,9.1L475.1,9.1L475.8,9.1L476.6,9.1L477.3,9.1L478,9.1L478.7,9.1L479.4,9.2L480.2,9.2L480.9,9.2L481.6,9.2L482.3,9.3L483,9.3L483.7,9.3L484.4,9.4L485.2,9.4L485.9,9.4L486.6,9.5L487.3,9.5L488,9.6L488.7,9.6L489.4,9.7L490.2,9.8L490.9,9.8L491.6,9.9L492.3,10L493,10.1L493.7,10.2L494.5,10.3L495.2,10.4L495.9,10.5L496.6,10.6L497.3,10.7L498,10.8L498.7,11L499.4,11.1L500.1,11.3L500.8,11.4L501.4,11.6L502.1,11.7L502.8,11.9L503.5,12.1L504.2,12.2L504.9,12.4L505.6,12.6L506.3,12.8L507,13L507.7,13.2L508.4,13.4L509.1,13.5L509.8,13.7L510.5,13.9L511.2,14.1L511.8,14.3L512.5,14.5L513.2,14.7L513.9,14.9L514.6,15.1L515.3,15.3L516,15.5L516.7,15.7L517.4,15.9L518.1,16.1L518.8,16.3L519.4,16.5L520.1,16.7L520.8,16.9L521.5,17.1L522.2,17.3L522.9,17.5L523.6,17.7L524.2,17.9L524.9,18.1L525.6,18.3L526.3,18.5L527,18.7L527.7,18.9L528.4,19.1L529,19.4L529.7,19.6L530.4,19.8L531.1,20L531.8,20.2L532.5,20.4L533.2,20.6L533.9,20.9L534.6,21.1L535.3,21.3L536,21.5L536.6,21.7L537.3,21.9L538,22.1L538.7,22.3L539.4,22.5L540.1,22.7L540.8,22.9L541.5,23.1L542.2,23.3L542.9,23.5L543.6,23.8L544.3,24L545,24.2L545.7,24.4L546.4,24.6L547.1,24.8L547.8,25L548.5,25.2L549.2,25.4L549.8,25.7L550.5,25.9L551.1,26.1L551.8,26.3L552.4,26.6L553,26.8L553.6,27L554.2,27.2L554.8,27.5L555.4,27.7L556.2,28L556.9,28.4L557.6,28.7L558.3,29L559,29.4L559.6,29.7L560.3,30.1L560.9,30.4L561.5,30.8L562.1,31.1L562.7,31.5L563.3,31.8L563.9,32.2L564.5,32.5L565.1,32.9L565.6,33.3L566.2,33.6L566.7,34L567.3,34.3L567.9,34.7L568.4,35L569,35.4L569.7,35.8L570.3,36.2L571,36.6L571.6,37L572.3,37.4L572.9,37.9L573.5,38.3L574.2,38.7L574.8,39.1L575.4,39.5L576,39.9L576.6,40.3L577.2,40.7L577.8,41.2L578.4,41.6L578.9,42L579.5,42.4L580,42.8L580.5,43.2L581.1,43.7L581.7,44.2L582.3,44.7L582.8,45.2L583.3,45.6L583.8,46.1L584.3,46.6L584.8,47.1L585.2,47.5L585.7,48L586.2,48.6L586.7,49.1L587.2,49.7L587.7,50.3L588.3,50.9L588.7,51.4L589.1,51.8L589.6,52.3L590,52.8L590.5,53.4L590.9,53.9L591.4,54.4L591.8,54.9L592.3,55.5L592.7,56.1L593.2,56.6L593.7,57.2L594.2,57.8L594.6,58.3L595.1,58.9L595.6,59.5L596,60.1L596.5,60.7L597,61.3L597.4,61.9L597.9,62.5L598.3,63L598.7,63.6L599.2,64.2L599.6,64.7L600,65.3L600.4,65.8L600.8,66.4L601.3,67L601.7,67.6L602.1,68.1L602.5,68.7L603,69.3L603.4,69.9L603.8,70.5L604.2,71.1L604.7,71.7L605.1,72.3L605.5,72.9L605.9,73.5L606.3,74.1L606.8,74.8L607.2,75.4L607.6,76L608,76.6L608.4,77.2L608.8,77.8L609.2,78.4L609.6,79.1L610,79.7L610.4,80.4L610.8,81L611.3,81.7L611.7,82.4L612.1,83L612.5,83.7L612.9,84.4L613.3,85L613.7,85.7L614.1,86.3L614.5,86.9L614.9,87.6L615.2,88.2L615.6,88.8L615.9,89.3L616.3,89.9L616.6,90.4L616.9,90.9L617.2,91.4L617.7,92.3L618.2,93L618.6,93.8L619,94.4L619.4,95L619.8,95.6L620.1,96.2L620.4,96.7L620.7,97.2L621,97.8L621.3,98.3L621.7,98.9L622,99.5L622.4,100.1L622.7,100.8L623.1,101.4L623.4,102.1L623.8,102.7L624.1,103.4L624.5,104L624.8,104.7L625.1,105.3L625.5,106L625.8,106.6L626.2,107.3L626.5,108L626.8,108.6L627.1,109.2L627.4,109.8L627.7,110.4L628,111L628.3,111.6L628.6,112.2L628.9,112.8L629.2,113.5L629.5,114.1L629.8,114.8L630.1,115.6L630.4,116.4L630.7,117.2L630.9,117.8L631.1,118.4L631.3,119L631.5,119.6L631.7,120.3L631.9,120.9L632.1,121.6L632.3,122.3L632.5,123L632.7,123.7L632.9,124.5L633.1,125.2L633.3,125.9L633.5,126.7L633.7,127.4L633.9,128.1L634.1,128.8L634.3,129.5L634.5,130.2L634.7,130.9L634.8,131.6L635,132.2L635.2,133L635.4,133.7L635.6,134.5L635.7,135.2L635.9,135.9L636.1,136.6L636.2,137.3L636.4,138L636.5,138.7L636.7,139.4L636.8,140.1L637,140.8L637.1,141.5L637.2,142.2L637.4,142.9L637.5,143.6L637.7,144.3L637.8,145L637.9,145.7L638.1,146.4L638.2,147.2L638.4,147.9L638.5,148.6L638.6,149.4L638.7,150.1L638.9,150.8L639,151.6L639.1,152.3L639.3,153L639.4,153.7L639.5,154.5L639.6,155.2L639.8,155.9L639.9,156.6L640.1,157.3L640.2,158L640.4,158.7L640.5,159.5L640.7,160.2L640.8,160.9L641,161.7L641.2,162.4L641.3,163.1L641.5,163.8L641.7,164.5L641.8,165.3L642,166L642.2,166.6L642.4,167.3L642.5,168L642.7,168.7L642.8,169.3L643,170L643.2,170.8L643.4,171.5L643.6,172.3L643.7,173L643.9,173.7L644.1,174.4L644.3,175.1L641.2,174.9L642,175.3L642.8,175.8L643.4,176.2L643.7,176.6L643.7,177L643.4,177.4L642.4,177.8L641.1,178.1L639.4,178.4L637.7,178.8L636.3,179.1L635.4,179.5L635.2,179.9L635.7,180.3L636.8,180.8L638.3,181.2L640,181.7L641.6,182.1L642.7,182.6L643.4,183L643.5,183.4L643.1,183.8L642,184.2L640.4,184.5L638.5,184.8L636.6,185.2L635.1,185.5L634.1,185.9L633.9,186.3L634.5,186.7L635.8,187.1L637.5,187.6L639.4,188.1L641.1,188.3L642.4,188.9L643.1,189.4L643.1,189.8L642.8,190.2L642.2,190.5L641.4,190.8L640.3,191.1L639.3,191.3L638.5,191.6L638,192L637.8,192.3L638.1,192.8L638.7,193.3L639.6,193.8L640.5,194.3L641.4,194.8L642,195.3L642.3,195.8L642.3,196.2L642,196.5L641.4,196.9L640.6,197.2L639.7,197.4L638.8,197.7L638,198L637.6,198.4L637.4,198.8L637.7,199.2L638.3,199.7L639,200.2L639.9,200.7L640.6,201.2L641.2,201.7L641.4,202.1L641.3,202.5L641,202.8L640.5,203L639.9,203.2L639.1,203.3L638.4,203.4L637.9,203.6L637.4,203.9L637.2,204.2L637.3,204.7L637.5,205.2L637.9,205.8L638.3,206.4L638.6,207L638.8,207.5L638.8,208L638.7,208.4L638.2,208.6L637.3,208.6L636,208.5L634.5,208.3L633.1,208.1L632,208L631.2,208.2L631,208.5L631.4,209.1L632.1,209.9L633.2,210.8L634.3,211.7L635.3,212.6L636,213.3L636.2,213.9L636.1,214.2L635.6,214.4L634.7,214.5L633.7,213.8L632.3,213.3L631.1,212.8L630,212.4L629.3,212.4L629,212.7L629.2,213.3L629.7,214.3L630.5,215.4L631.3,216.5L632,217.6L632.5,218.5L632.5,219L632.3,219.4L631.8,219.5L631.1,219.5L630.2,219.3L629.3,219L628.3,218.8L627.5,218.6L627,218.7L626.7,219L626.8,219.6L627,220.3L627.5,221.2L628,222.1L628.4,222.9L628.6,223.6L628.6,224.1L628.3,224.4L627.8,224.5L626.9,224.3L625.8,223.9L624.5,223.4L623.4,223L622.4,222.7L621.7,222.7L621.5,223.1L621.7,223.7L622.2,224.6L622.8,225.7L623.6,226.8L624.2,227.8L624.6,228.6L624.6,229.1L624.3,229.4L623.9,229.6L623.3,229.6L622.5,229.5L621.7,229.3L620.9,229.2L620.2,229.2L619.7,229.3L619.5,229.6L619.5,230.2L619.7,230.8L620,231.6L620.3,232.4L620.6,233.1L620.7,233.7L620.6,234.1L620.3,234.4L619.6,234.3L618.3,233.9L616.8,233.1L615.1,232.3L613.4,231.5L612.1,230.9L611.3,230.8L611.1,231.2L611.6,232L612.4,233.2L613.6,234.7L614.7,236.4L615.8,237.6L616.5,238.6L616.7,239.2L616.4,239.5L615.7,239.5L614.7,239.3L613.3,238.8L611.8,238.3L610.4,237.9L609.3,237.6L608.7,237.6L608.5,238L608.9,238.7L609.6,239.7L610.6,240.9L611.6,242.1L612.5,243.1L613,243.9L613,244.5L612.7,244.8L612,244.7L610.6,244.3L609,243.6L607.1,242.9L605.4,242.2L604.1,241.8L603.3,241.7L603.2,242.1L603.7,243L604.8,244.2L606.1,245.6L607.5,247L608.6,248.2L609.3,249.2L609.4,249.8L609.1,250L608.5,249.9L607.7,249.5L606.7,248.8L605.6,248.1L604.5,247.4L603.7,247L603.1,246.9L602.9,247.2L603,248L603.3,249L603.7,250.2L604.1,251.4L604.5,252.5L604.6,253.3L604.4,253.8L604.1,254L603.6,254.1L603,254L602.4,253.7L601.7,253.5L601,253.3L600.4,253.2L600,253.3L599.7,253.6L599.6,254.1L599.6,254.7L599.6,255.5L599.7,256.2L599.7,256.9L599.6,257.4L599.4,257.7L599,257.8L598.4,257.2L597.6,256.1L596.7,254.5L595.7,252.8L594.8,251.3L594,250.2L593.5,249.8L593.2,250.1L593.1,251.2L593.2,252.8L593.4,254.7L593.6,256.6L593.7,258.2L593.6,259.3L593.3,259.8L592.9,259.8L592.3,259.3L591.6,258.3L590.7,256.9L589.8,255.5L589,254.2L588.3,253.3L587.8,253L587.5,253.3L587.3,254.3L587.4,255.7L587.5,257.4L587.6,259L587.6,260.4L587.5,261.4L587.2,261.8L586.8,261.7L586.3,261L585.7,259.7L585.1,257.9L584.4,256.1L583.7,254.4L583.2,253.2L582.7,252.8L582.3,253.1L582.1,254.2L581.9,255.9L581.8,257.9L581.7,259.8L581.5,261.4L581.2,262.4L580.9,262.8L580.5,262.7L580,262L579.4,260.8L578.8,259.2L578.1,257.6L577.5,256.1L577,255.1L576.5,254.7L576.1,255.1L575.9,256.1L575.7,257.6L575.5,259.4L575.4,261.1L575.2,262.5L574.9,263.4L574.5,263.7L574.1,263.6L573.8,262.9L573.4,261.6L573.1,260L572.8,258.4L572.4,256.9L572,255.9L571.7,255.5L571.2,255.8L570.8,256.7L570.4,258.1L569.9,259.7L569.4,261.3L569,262.6L568.6,263.3L568.1,263.6L567.7,263.4L567.4,262.7L567,261.6L566.7,260.1L566.3,258.6L567.9,257.6L567.9,256.7L567.6,256.2L567.1,256.4L566.4,257L565.6,258.1L564.7,259.3L563.8,260.5L563.1,261.4L562.4,262L562,262L560,262L540,258L515,250L505,200L490,180L440,170L400,170L356,170L352,158L352.4,157.8L351.9,157.1L351.8,156.6L351.9,156L352.3,155.6L352.9,155.1L353.5,154.7L354,154.3L354.2,153.8L354.2,153.2L353.9,152.6L353.6,152L353.3,151.3L353.2,150.7L353.3,150.2L353.7,149.8L354.3,149.4L354.9,149L355.4,148.6L355.8,148.2L355.8,147.7L355.7,147.1L355.4,146.4L355.1,145.8L354.9,145.2L355,144.7L355.2,144.2L355.7,143.9L356.3,143.5L356.9,143.2L357.4,142.8L357.6,142.4L357.7,141.9L357.5,141.3L357.3,140.7L357,140.1L356.8,139.5L356.9,139L357.2,138.5L357.7,138.2L358.2,137.8L358.8,137.5L359.3,137.1L359.6,136.7L359.6,136.2L359.5,135.6L359.2,135L358.9,134.4L358.8,133.8L358.8,133.3L359.1,132.8L359.6,132.5L360.2,132.1L360.8,131.8L361.2,131.4L361.5,131L361.5,130.5L361.3,129.9L361,129.2L360.8,128.6L360.6,128.1L360.7,127.5L361,127.1L361.5,126.7L362.1,126.4L362.7,126.1L363.1,125.7L363.3,125.2L363.3,124.7L363.2,124.1L362.9,123.5L362.6,122.9L362.5,122.3L362.6,121.8L362.9,121.4L363.4,121L364,120.7L364.6,120.3L365,120L365.3,119.5L365.2,119L365,118.4L364.8,117.7L364.5,117.1L364.4,116.6L364.5,116.1L364.9,115.7L365.4,115.3L366,115L366.6,114.6L367,114.2L367.2,113.8L367.1,113.2L367,112.7L366.9,112.1L366.8,111.4L366.9,110.8L367.2,110.4L367.6,110.1L368.3,109.9L368.9,109.8L369.5,109.6L370,109.3L370.3,108.9L370.4,108.3L370.3,107.7L370.2,107L370.2,106.4L370.3,105.8L370.6,105.4L371,105.1L371.7,104.9L372.3,104.8L372.9,104.6L373.4,104.3L373.7,103.8L373.7,103.3L373.7,102.6L373.6,101.9L373.3,101.4L373.3,100.8L373.5,100.4L374,100L374.6,99.6L375.2,99.3L375.7,98.9L376,98.4L376,97.9L375.8,97.3L375.6,96.6L375.3,96L375.1,95.4L375.2,94.9L375.6,94.4L376.1,94.1L376.7,93.7L377.3,93.4L377.7,93L377.9,92.5L377.8,91.9L377.6,91.3L376.9,90.9L376.3,90.6L375.9,90.2L375.7,89.7L375.8,89.1L375.9,88.5L376.1,87.8L376.3,87.2L375.9,86.5L375.5,86.2L374.9,86.1L374.2,86L373.5,86L372.9,85.9L372.4,85.6L372.2,85.2L372,84.6L372,83.9L371.2,82.7L371.4,82.3L371.9,82L372.6,81.9L373.5,81.8L374.3,81.8L374.9,81.6L375.4,81.3L375.5,80.8L375.5,80.1L375.2,79.4L374.9,78.6L374.7,77.8L374.7,77.2L375,76.8L375.6,76.6L376.3,76.4L377.1,76.4L377.9,76.3L378.6,76.1L379,75.8L379.1,75.3L379,74.6L378.7,73.8L378.5,73L378.3,72.3L378.6,71.6L379,71.2L379.6,71.1L380.4,71.2L381.3,71.3L382.1,71.4L382.7,71.3L383.1,71L383.3,70.4L383.3,69.7L383.2,68.9L383.1,68L383.1,67.3L383.4,66.9L383.8,66.6L385.2,66.7L385.7,67.4L386.2,68L386.7,68.6L387.2,68.9L387.7,68.8L388.2,68.5L388.7,67.9L389.2,67.2L389.8,66.6L390.3,66.2L390.8,66.1L391.3,66.3L391.8,66.8L392.3,67.5L392.8,68.1L393.3,68.6L393.8,68.9L395.2,67.6L395.1,67L394.8,66.3L394.4,65.6L394.1,64.8L393.9,64.2L394.1,63.7L394.5,63.4L395.2,63.2L396,63L395.4,62.3L394.6,61.7L393.8,61.2L393.2,60.9L392.9,60.8L393.2,61L394.4,61.4L396.1,61.9L397.9,62.2L399.6,62.4L401.1,62.4L402.2,62.1L402.9,61.7L403.1,61L402.8,60.2L402.1,59.2L400.9,58.2L399.5,57.2L398,56.3L396.4,55.4L395.1,54.8L394,54.4L393.2,54.1L393,54.1L393.3,54.3L394,54.7L395.2,55.1L396.7,55.6L398.4,56L400.2,56.3L401.9,56.5L403.4,56.5L404.7,55.8L405.3,55.3L405.5,54.6L405.1,53.8L404.3,53L403,52L401.6,51.1L399.9,50.3L398.3,49.6L396.9,49.1L395.8,48.8L395.1,48.6L394.9,48.6L395.1,48.8L395.9,49.1L397.2,49.4L398.7,49.8L400.5,50L402.3,50.2L404,50.3L405.4,50.1L406.5,49.8L407.1,49.3L407.3,48.6L406.9,47.8L406,46.9L404.8,46L403.3,45.1L401.7,44.3L400.1,43.6L398.7,43L397.6,42.7L396.9,42.6L396.7,42.6L396.9,43.6L397.7,43.7L399,43.9L400.5,44L402.3,44L404.1,44L405.8,43.7L407.2,43.4L408.3,42.9L408.8,42.3L408.8,41.6L408.3,40.9L407.3,40.1L406,39.4L404.3,38.7L402.6,38.1L400.9,37.7L399.5,37.4L398.3,37.2L397.6,37.1L397.5,37.2L397.8,37.3L398.7,37.5L399.9,37.7L401.5,37.8L403.3,37.8L405.1,37.7L406.8,37.5L408.2,37.2L409.2,36.7L409.7,36.1L409.7,35.4L409.2,34.6L408.2,33.8L406.5,32.4L404.8,32.2L403,32.1L401.3,32L399.8,32.1L398.6,32.2L398,32.3L397.8,32.5L398.2,32.5L399.1,32.4L400.4,32.3L402,32L403.7,31.6L405.4,31L407,30.4L408.3,29.7L409.1,29L409.4,28.3L409.2,27.6L408.5,27L407.4,26.5L405.9,26.2L404.1,25.9L402.3,25.8L400.6,25.8L399.1,25.8L398,26L397.9,26.1L398.7,26L399.8,25.8L401,25.5L402.1,25L402.8,24.5L403,24L404,21.5L408,17.5L414.5,14.8L422.2,12.5L427,8.7Z" fill="#b3cfed"/>
<g clip-path="url(#c1)">
<path d="M592.3,70.3C592.1,72 595.5,76 597,80C598.5,84 600,89.3 601,94.3C602,99.3 602.5,104.3 603,110C603.5,115.7 603.5,122.7 604.3,128.7C605.1,134.7 606,142 607.8,145.9C609.6,149.8 612.7,150.3 615,152C617.3,153.7 619.8,154 621.5,156.2C623.2,158.4 624.1,162.2 625,165C625.9,167.8 626.1,167.9 626.7,173.3C627.3,178.7 628.4,190.5 628.4,197.4C628.4,204.3 626.2,212.6 627,215C627.8,217.4 631,216.1 633,212C635,207.9 638.3,196.9 638.7,190.5C639.1,184.1 636.4,180.2 635.3,173.3C634.1,166.4 633.5,156.7 631.8,149.3C630.1,141.9 627,135.2 625,128.7C623,122.1 621.7,115.7 620,110C618.3,104.3 616.8,99.3 614.6,94.3C612.4,89.3 609.8,84 607,80C604.2,76 600.5,71.6 598,70C595.5,68.4 592.5,68.6 592.3,70.3Z" fill="#b9c7d5"/>
</g>
<path d="M644.3,175.1L644.4,175.7L644.6,176.4L644.8,177.1L645,177.8L645.1,178.5L645.3,179.3L645.5,180L645.7,180.7L645.8,181.3L646,182L646.1,182.7L646.3,183.4L646.4,184.1L646.6,184.8L646.8,185.5L646.9,186.2L647.1,186.9L647.2,187.6L647.4,188.3L647.5,189L647.7,189.7L647.8,190.3L648,191L648.2,191.7L648.4,192.5L648.5,193.2L648.7,194L648.9,194.7L649.1,195.4L649.3,196.1L649.4,196.8L649.6,197.5L649.8,198.2L650,198.9L650.2,199.6L650.3,200.3L650.5,201L650.7,201.7L650.9,202.4L651.1,203.1L651.3,203.7L651.4,204.4L651.6,205L651.8,205.7L652,206.4L652.2,207L652.3,207.7L652.5,208.5L652.7,209.2L652.8,210L652.9,210.6L653,211.2L653.1,211.9L653.2,212.5L653.3,213.2L653.4,213.8L653.5,214.5L653.5,215.2L653.6,215.9L653.7,216.6L653.8,217.3L653.8,218.1L653.9,218.8L653.9,219.6L654,220.4L654,221.2L654,222L654,222.6L654,223.3L654,223.9L654,224.6L654,225.2L654,225.9L654,226.6L654,227.3L654,228L653.9,228.8L653.9,229.5L653.9,230.2L653.8,230.9L653.8,231.7L653.8,232.4L653.7,233.1L653.7,233.9L653.6,234.6L653.6,235.3L653.5,236.1L653.4,236.8L653.4,237.5L653.3,238.2L653.2,238.9L653.2,239.6L653.1,240.3L653,241L652.9,241.7L652.8,242.4L652.7,243.1L652.6,243.8L652.5,244.5L652.4,245.2L652.3,245.9L652.2,246.6L652.1,247.3L652,248L651.8,248.7L651.7,249.4L651.6,250.1L651.4,250.8L651.3,251.5L651.2,252.2L651,252.9L650.9,253.6L650.7,254.3L650.5,255L650.4,255.6L650.2,256.3L650.1,257L649.9,257.7L649.7,258.3L649.6,259L649.4,259.7L649.2,260.3L649,261L648.8,261.7L648.6,262.4L648.4,263L648.2,263.7L648,264.4L647.8,265L647.6,265.7L647.4,266.4L647.1,267.1L646.9,267.7L646.7,268.4L646.4,269.1L646.2,269.7L645.9,270.4L645.6,271L645.4,271.7L645.1,272.3L644.8,273L644.5,273.7L644.2,274.3L643.9,275L643.6,275.6L643.3,276.3L643,277L642.7,277.6L642.4,278.3L642,278.9L641.7,279.6L641.4,280.2L641,280.9L640.7,281.5L640.4,282.1L640,282.8L639.7,283.4L639.3,284L639,284.6L638.6,285.2L638.3,285.8L637.9,286.4L637.5,287L637.1,287.6L636.7,288.2L636.3,288.8L635.9,289.4L635.5,290L635.1,290.6L634.6,291.2L634.2,291.8L633.8,292.3L633.4,292.9L632.9,293.4L632.5,294L632.1,294.5L631.6,295.1L631.2,295.6L630.8,296.1L630.3,296.7L629.9,297.2L629.5,297.7L629,298.3L628.6,298.8L628.2,299.3L627.7,299.9L627.3,300.4L626.9,301L626.4,301.5L626,302.1L625.5,302.6L625.1,303.2L624.7,303.7L624.3,304.2L623.8,304.7L623.4,305.3L622.9,305.8L622.5,306.3L622,306.8L621.6,307.3L621.1,307.9L620.6,308.4L620.1,308.9L619.6,309.4L619.1,310L618.6,310.5L618.1,311L617.6,311.4L617.1,311.9L616.6,312.4L616.1,312.9L615.6,313.4L615.1,313.8L614.5,314.3L614,314.8L613.5,315.3L612.9,315.8L612.4,316.2L611.8,316.7L611.2,317.2L610.7,317.7L610.1,318.2L609.6,318.6L609,319.1L608.4,319.6L607.9,320L607.3,320.5L606.8,320.9L606.2,321.4L605.7,321.8L605.1,322.3L604.5,322.7L604,323.2L603.4,323.7L602.8,324.2L602.2,324.6L601.6,325.1L601,325.5L600.5,326L599.9,326.5L599.3,326.9L598.7,327.3L598.1,327.8L597.6,328.2L597,328.6L596.4,329.1L595.8,329.5L595.2,329.9L594.6,330.3L594.1,330.7L593.5,331L592.9,331.4L592.3,331.8L591.6,332.2L590.9,332.6L590.2,333L589.6,333.4L588.9,333.8L588.2,334.1L587.5,334.5L586.8,334.9L586.1,335.2L585.5,335.5L584.8,335.9L584.1,336.2L583.5,336.5L582.9,336.8L582.3,337L581.7,337.3L581.1,337.5L580.5,337.7L580,337.9L579.1,338.2L578.4,338.3L577.8,338.4L577.2,338.5L576.7,338.4L576.1,338.4L575.5,338.4L574.9,338.3L574.1,338.3L573.3,338.4L572.2,338.5L571.7,338.6L571.1,338.6L570.5,338.7L569.9,338.8L569.3,338.9L568.6,339L567.9,339.1L567.2,339.2L566.5,339.3L565.7,339.4L565,339.6L564.2,339.7L563.4,339.8L562.7,339.9L561.9,340L561.1,340.2L560.4,340.3L559.6,340.4L558.9,340.5L558.2,340.7L557.4,340.8L556.7,340.9L556.1,341.1L555.4,341.2L554.8,341.3L554,341.5L553.2,341.6L552.5,341.8L551.8,342L551,342.2L550.3,342.4L549.7,342.6L549,342.7L548.3,342.9L547.6,343.1L547,343.3L546.3,343.5L545.7,343.7L545,343.8L544.4,344L543.7,344.2L543.1,344.3L542.4,344.5L541.7,344.6L541,344.7L540.3,344.9L539.6,345L539,345.1L538.3,345.2L537.7,345.3L537,345.4L536.4,345.5L535.7,345.6L535.1,345.7L534.4,345.8L533.7,345.8L532.9,345.9L532.2,346L531.4,346L530.5,346L529.6,346.1L528.7,346.1L528.1,346.1L527.5,346.1L526.9,346.1L526.3,346.1L525.7,346.1L525,346L524.4,346L523.7,346L523,345.9L522.3,345.9L521.6,345.9L520.9,345.8L520.2,345.8L519.5,345.7L518.8,345.7L518,345.6L517.3,345.6L516.6,345.5L515.8,345.5L515.1,345.4L514.3,345.4L513.6,345.4L512.8,345.3L512.1,345.3L511.3,345.3L510.6,345.2L509.9,345.2L509.1,345.2L508.4,345.2L507.7,345.2L507,345.2L506.3,345.2L505.6,345.2L504.8,345.2L504.1,345.3L503.4,345.3L502.6,345.3L501.9,345.4L501.1,345.4L500.4,345.4L499.6,345.5L498.8,345.5L498.1,345.6L497.3,345.6L496.6,345.7L495.8,345.7L495.1,345.8L494.3,345.8L493.6,345.9L492.9,346L492.1,346L491.4,346.1L490.7,346.1L490.1,346.2L489.4,346.3L488.7,346.3L488.1,346.4L487.5,346.5L486.9,346.5L486.3,346.6L485.7,346.6L485.2,346.7L484.2,346.8L483.2,347L482.3,347.1L481.5,347.2L480.8,347.4L480.1,347.5L479.4,347.7L478.7,347.8L478.1,348L477.5,348.1L476.9,348.3L476.3,348.4L475.7,348.6L475,348.8L474.3,348.9L473.6,349L472.9,349.2L472.1,349.4L471.4,349.5L470.7,349.7L470,349.8L469.3,350L468.5,350.1L467.8,350.3L467.1,350.4L466.4,350.6L465.7,350.7L464.9,350.9L464.2,351L463.5,351.1L462.8,351.2L462.1,351.3L461.3,351.4L460.6,351.6L459.9,351.7L459.1,351.8L458.4,351.9L457.7,352L457,352.1L456.2,352.1L455.5,352.2L454.8,352.2L454.1,352.2L453.3,352.2L452.6,352.2L451.9,352.2L451.1,352.1L450.4,352L449.7,351.9L449,351.8L448.2,351.7L447.5,351.5L446.8,351.4L446.1,351.2L445.3,351L444.6,350.8L443.9,350.6L443.1,350.4L442.4,350.2L441.7,350L441,349.8L440.3,349.6L439.6,349.4L438.9,349.2L438.2,349L437.5,348.7L436.7,348.5L436,348.3L435.3,348L434.6,347.7L434,347.4L433.3,347.1L432.7,346.8L432,346.5L431.5,346.1L430.9,345.7L430.3,345.2L429.8,344.8L429.2,344.2L428.7,343.7L428.2,343.1L427.7,342.5L427.3,341.9L426.8,341.3L426.4,340.7L426,340.1L425.6,339.4L425.3,338.8L424.9,338.2L424.6,337.6L424.3,337L424,336.2L423.7,335.4L423.4,334.6L423.2,333.8L423,332.9L422.8,332.1L422.7,331.3L422.6,330.6L422.5,329.9L422.4,329.2L422.3,328.7L422.2,328.3L426,300L470,290L540,275L562,262L562.4,262L563.1,261.4L563.8,260.5L564.7,259.3L565.6,258.1L566.4,257L567.1,256.4L567.6,256.2L567.9,256.7L567.9,257.6L566.3,258.6L566.7,260.1L567,261.6L567.4,262.7L567.7,263.4L568.1,263.6L568.6,263.3L569,262.6L569.4,261.3L569.9,259.7L570.4,258.1L570.8,256.7L571.2,255.8L571.7,255.5L572,255.9L572.4,256.9L572.8,258.4L573.1,260L573.4,261.6L573.8,262.9L574.1,263.6L574.5,263.7L574.9,263.4L575.2,262.5L575.4,261.1L575.5,259.4L575.7,257.6L575.9,256.1L576.1,255.1L576.5,254.7L577,255.1L577.5,256.1L578.1,257.6L578.8,259.2L579.4,260.8L580,262L580.5,262.7L580.9,262.8L581.2,262.4L581.5,261.4L581.7,259.8L581.8,257.9L581.9,255.9L582.1,254.2L582.3,253.1L582.7,252.8L583.2,253.2L583.7,254.4L584.4,256.1L585.1,257.9L585.7,259.7L586.3,261L586.8,261.7L587.2,261.8L587.5,261.4L587.6,260.4L587.6,259L587.5,257.4L587.4,255.7L587.3,254.3L587.5,253.3L587.8,253L588.3,253.3L589,254.2L589.8,255.5L590.7,256.9L591.6,258.3L592.3,259.3L592.9,259.8L593.3,259.8L593.6,259.3L593.7,258.2L593.6,256.6L593.4,254.7L593.2,252.8L593.1,251.2L593.2,250.1L593.5,249.8L594,250.2L594.8,251.3L595.7,252.8L596.7,254.5L597.6,256.1L598.4,257.2L599,257.8L599.4,257.7L599.6,257.4L599.7,256.9L599.7,256.2L599.6,255.5L599.6,254.7L599.6,254.1L599.7,253.6L600,253.3L600.4,253.2L601,253.3L601.7,253.5L602.4,253.7L603,254L603.6,254.1L604.1,254L604.4,253.8L604.6,253.3L604.5,252.5L604.1,251.4L603.7,250.2L603.3,249L603,248L602.9,247.2L603.1,246.9L603.7,247L604.5,247.4L605.6,248.1L606.7,248.8L607.7,249.5L608.5,249.9L609.1,250L609.4,249.8L609.3,249.2L608.6,248.2L607.5,247L606.1,245.6L604.8,244.2L603.7,243L603.2,242.1L603.3,241.7L604.1,241.8L605.4,242.2L607.1,242.9L609,243.6L610.6,244.3L612,244.7L612.7,244.8L613,244.5L613,243.9L612.5,243.1L611.6,242.1L610.6,240.9L609.6,239.7L608.9,238.7L608.5,238L608.7,237.6L609.3,237.6L610.4,237.9L611.8,238.3L613.3,238.8L614.7,239.3L615.7,239.5L616.4,239.5L616.7,239.2L616.5,238.6L615.8,237.6L614.7,236.4L613.6,234.7L612.4,233.2L611.6,232L611.1,231.2L611.3,230.8L612.1,230.9L613.4,231.5L615.1,232.3L616.8,233.1L618.3,233.9L619.6,234.3L620.3,234.4L620.6,234.1L620.7,233.7L620.6,233.1L620.3,232.4L620,231.6L619.7,230.8L619.5,230.2L619.5,229.6L619.7,229.3L620.2,229.2L620.9,229.2L621.7,229.3L622.5,229.5L623.3,229.6L623.9,229.6L624.3,229.4L624.6,229.1L624.6,228.6L624.2,227.8L623.6,226.8L622.8,225.7L622.2,224.6L621.7,223.7L621.5,223.1L621.7,222.7L622.4,222.7L623.4,223L624.5,223.4L625.8,223.9L626.9,224.3L627.8,224.5L628.3,224.4L628.6,224.1L628.6,223.6L628.4,222.9L628,222.1L627.5,221.2L627,220.3L626.8,219.6L626.7,219L627,218.7L627.5,218.6L628.3,218.8L629.3,219L630.2,219.3L631.1,219.5L631.8,219.5L632.3,219.4L632.5,219L632.5,218.5L632,217.6L631.3,216.5L630.5,215.4L629.7,214.3L629.2,213.3L629,212.7L629.3,212.4L630,212.4L631.1,212.8L632.3,213.3L633.7,213.8L634.7,214.5L635.6,214.4L636.1,214.2L636.2,213.9L636,213.3L635.3,212.6L634.3,211.7L633.2,210.8L632.1,209.9L631.4,209.1L631,208.5L631.2,208.2L632,208L633.1,208.1L634.5,208.3L636,208.5L637.3,208.6L638.2,208.6L638.7,208.4L638.8,208L638.8,207.5L638.6,207L638.3,206.4L637.9,205.8L637.5,205.2L637.3,204.7L637.2,204.2L637.4,203.9L637.9,203.6L638.4,203.4L639.1,203.3L639.9,203.2L640.5,203L641,202.8L641.3,202.5L641.4,202.1L641.2,201.7L640.6,201.2L639.9,200.7L639,200.2L638.3,199.7L637.7,199.2L637.4,198.8L637.6,198.4L638,198L638.8,197.7L639.7,197.4L640.6,197.2L641.4,196.9L642,196.5L642.3,196.2L642.3,195.8L642,195.3L641.4,194.8L640.5,194.3L639.6,193.8L638.7,193.3L638.1,192.8L637.8,192.3L638,192L638.5,191.6L639.3,191.3L640.3,191.1L641.4,190.8L642.2,190.5L642.8,190.2L643.1,189.8L643.1,189.4L642.4,188.9L641.1,188.3L639.4,188.1L637.5,187.6L635.8,187.1L634.5,186.7L633.9,186.3L634.1,185.9L635.1,185.5L636.6,185.2L638.5,184.8L640.4,184.5L642,184.2L643.1,183.8L643.5,183.4L643.4,183L642.7,182.6L641.6,182.1L640,181.7L638.3,181.2L636.8,180.8L635.7,180.3L635.2,179.9L635.4,179.5L636.3,179.1L637.7,178.8L639.4,178.4L641.1,178.1L642.4,177.8L643.4,177.4L643.7,177L643.7,176.6L643.4,176.2L642.8,175.8L642,175.3L641.2,174.9Z" fill="#6fb480"/>
<g clip-path="url(#c2)">
<path d="M418,298C421.7,288.3 432.7,294.7 440,298C447.3,301.3 456.7,311.8 462,318C467.3,324.2 465.7,331.3 472,335C478.3,338.7 488.7,339.5 500,340C511.3,340.5 530,337.2 540,338C550,338.8 560,342 560,345C560,348 563.7,354.2 540,356C516.3,357.8 438.3,365.7 418,356C397.7,346.3 414.3,307.7 418,298Z" fill="#7fa78e"/>
<path d="M450,344C455,344.3 470,346.2 480,346C490,345.8 500,343.3 510,343C520,342.7 530,344.8 540,344C550,343.2 561.7,340 570,338C578.3,336 586.7,333 590,332" fill="none" stroke="#5f9a72" stroke-width="1.6" opacity="0.7" stroke-linecap="round"/>
<path d="M436,330C439.2,331 448.5,334.7 455,336C461.5,337.3 471.7,337.7 475,338" fill="none" stroke="#99bba5" stroke-width="1.5" opacity="0.7" stroke-linecap="round"/>
<path d="M426,315C428.3,316.7 435.2,322.5 440,325C444.8,327.5 452.5,329.2 455,330" fill="none" stroke="#99bba5" stroke-width="1.3" opacity="0.6" stroke-linecap="round"/>
<path d="M520,336C525,335.7 540.8,334.8 550,334C559.2,333.2 566.7,333 575,331C583.3,329 595.8,323.5 600,322" fill="none" stroke="#8cc29c" stroke-width="1.2" opacity="0.6" stroke-linecap="round"/>
<path d="M637,220C637.7,222 640.7,227.7 641,232C641.3,236.3 639,242 639,246C639,250 640.7,254.3 641,256" fill="none" stroke="#b6dcbe" stroke-width="1.4" opacity="0.8" stroke-linecap="round"/>
</g>
<path d="M251.2,181.8L251,181.4L250.7,181L250.4,180.4L250,179.8L249.6,179.1L249.1,178.4L248.7,177.6L248.3,176.9L247.9,176.1L247.6,175.4L247.3,174.8L247,174.1L246.8,173.4L246.5,172.7L246.2,172.1L246,171.3L245.8,170.6L245.5,169.9L245.3,169.1L245.2,168.4L245,167.6L244.9,166.9L244.8,166.2L244.7,165.5L244.6,164.8L244.5,164L244.4,163.3L244.4,162.5L244.3,161.8L244.3,161L244.3,160.3L244.3,159.5L244.3,158.7L244.3,158L244.3,157.3L244.4,156.5L244.4,155.8L244.5,155L244.6,154.3L244.7,153.5L244.8,152.8L244.9,152L245,151.3L245.1,150.5L245.3,149.8L245.4,149L245.6,148.3L245.8,147.6L245.9,146.9L246.1,146.2L246.3,145.5L246.5,144.8L246.7,144L246.9,143.3L247.1,142.6L247.3,141.9L247.6,141.2L247.8,140.5L248,139.9L248.3,139.2L248.5,138.6L248.8,137.9L249.1,137.2L249.4,136.6L249.7,136L250,135.3L250.3,134.7L250.7,134.1L251,133.5L251.3,132.9L251.7,132.3L252,131.6L252.4,130.9L252.7,130.3L253,129.7L253.3,129.1L253.6,128.5L253.9,127.8L254.3,127.2L254.6,126.6L254.9,125.9L255.2,125.2L255.6,124.6L255.9,123.9L256.2,123.3L256.6,122.6L256.9,121.9L257.2,121.3L257.5,120.7L257.8,120L258.1,119.4L258.5,118.8L258.8,118.1L259.1,117.5L259.4,116.9L259.7,116.3L260,115.6L260.3,115L260.6,114.3L261,113.7L261.3,113L261.6,112.3L262,111.6L262.3,111L262.6,110.4L263,109.7L263.3,109L263.7,108.4L264,107.7L264.4,107L264.7,106.3L265.1,105.5L265.4,104.9L265.8,104.2L266.1,103.5L266.5,102.8L266.8,102.2L267.1,101.6L267.4,101L267.7,100.5L267.9,100L268.4,99L268.7,98.1L269,97.4L269.3,96.7L269.6,96.1L269.8,95.5L270.1,94.9L270.5,94.3L270.9,93.7L271.3,93.2L271.7,92.6L272.2,92.1L272.6,91.6L273.1,91L273.6,90.4L274.1,89.8L274.7,89.2L275.1,88.7L275.5,88.2L276,87.7L276.4,87.2L276.9,86.7L277.3,86.2L277.8,85.6L278.3,85.1L278.8,84.5L279.3,84L279.8,83.4L280.3,82.9L280.8,82.3L281.3,81.8L281.7,81.2L282.2,80.7L282.7,80.2L283.1,79.6L283.6,79.1L284.1,78.5L284.6,77.9L285.1,77.4L285.6,76.8L286.1,76.3L286.6,75.7L287.1,75.2L287.6,74.6L288.1,74.1L288.6,73.6L289.1,73.1L289.6,72.5L290.1,72L290.6,71.5L291.1,71L291.6,70.5L292.1,70L292.6,69.4L293.2,68.9L293.7,68.4L294.2,67.9L294.8,67.4L295.3,66.9L295.8,66.4L296.3,66L296.8,65.5L297.3,65.1L297.8,64.7L298.3,64.3L298.9,63.8L299.4,63.4L299.9,63L300.4,62.5L301,62.1L301.6,61.6L302.1,61.1L302.7,60.6L303.4,60.1L304,59.5L304.5,59.1L304.9,58.7L305.4,58.2L305.9,57.8L306.4,57.3L306.9,56.8L307.5,56.4L308,55.9L308.6,55.4L309.1,54.9L309.6,54.4L310.2,53.9L310.8,53.4L311.3,52.9L311.9,52.4L312.4,51.9L313,51.4L313.5,50.9L314,50.4L314.6,49.9L315.1,49.5L315.6,49L316.1,48.6L316.7,48.1L317.3,47.6L317.9,47.1L318.4,46.6L319,46.1L319.6,45.7L320.1,45.2L320.7,44.7L321.3,44.3L321.8,43.8L322.4,43.4L322.9,42.9L323.5,42.5L324,42.1L324.6,41.7L325.1,41.2L325.7,40.8L326.2,40.4L326.8,40L327.4,39.6L328,39.2L328.6,38.7L329.2,38.3L329.8,37.9L330.4,37.5L331,37.1L331.6,36.8L332.1,36.4L332.7,36L333.3,35.6L333.9,35.3L334.5,34.9L335.1,34.5L335.7,34.2L336.3,33.8L336.9,33.5L337.5,33.1L338.1,32.7L338.8,32.4L339.4,32L340,31.6L340.7,31.3L341.3,30.9L341.9,30.6L342.6,30.2L343.2,29.9L343.9,29.5L344.5,29.2L345.1,28.9L345.8,28.5L346.4,28.2L347,27.9L347.7,27.5L348.3,27.2L348.9,26.9L349.6,26.5L350.2,26.2L350.8,25.9L351.5,25.5L352.1,25.2L352.7,24.9L353.3,24.5L354,24.2L354.6,23.9L355.2,23.6L355.9,23.3L356.5,22.9L357.1,22.7L357.7,22.4L358.4,22.1L359,21.8L359.7,21.5L360.3,21.2L361,21L361.7,20.7L362.4,20.5L363,20.2L363.7,20L364.4,19.7L365,19.5L365.7,19.3L366.4,19L367.1,18.8L367.7,18.6L368.4,18.4L369,18.2L369.7,18L370.4,17.8L371.1,17.6L371.8,17.4L372.4,17.2L373.1,17L373.8,16.9L374.5,16.7L375.1,16.5L375.8,16.4L376.5,16.2L377.2,16L377.9,15.9L378.6,15.7L379.3,15.6L380,15.4L380.7,15.3L381.3,15.1L382,15L382.7,14.8L383.3,14.7L384,14.5L384.6,14.4L385.3,14.3L386,14.1L386.7,14L387.4,13.9L388.2,13.7L389,13.6L389.8,13.5L390.6,13.3L391.5,13.2L392.1,13.1L392.7,13L393.4,12.9L394,12.8L394.7,12.7L395.4,12.6L396.1,12.5L396.8,12.4L397.5,12.3L398.3,12.3L399,12.2L399.7,12.1L400.5,12L401.2,11.9L402,11.8L402.7,11.7L403.5,11.6L404.3,11.5L405,11.4L405.8,11.3L406.5,11.2L407.2,11.2L408,11.1L408.7,11L409.4,10.9L410.1,10.8L410.9,10.8L411.6,10.7L412.3,10.6L413,10.6L413.8,10.5L414.5,10.4L415.2,10.3L415.9,10.3L416.7,10.2L417.4,10.1L418.1,10.1L418.8,10L419.6,10L420.3,9.9L421,9.8L421.7,9.8L422.4,9.7L423.2,9.6L423.9,9.6L424.6,9.5L425.3,9.5L426,9.4L422.2,12.5L414.5,14.8L408,17.5L404,21.5L403,24L402.8,24.5L402.1,25L401,25.5L399.8,25.8L398.7,26L397.9,26.1L398,26L399.1,25.8L400.6,25.8L402.3,25.8L404.1,25.9L405.9,26.2L407.4,26.5L408.5,27L409.2,27.6L409.4,28.3L409.1,29L408.3,29.7L407,30.4L405.4,31L403.7,31.6L402,32L400.4,32.3L399.1,32.4L398.2,32.5L397.8,32.5L398,32.3L398.6,32.2L399.8,32.1L401.3,32L403,32.1L404.8,32.2L406.5,32.4L408.2,33.8L409.2,34.6L409.7,35.4L409.7,36.1L409.2,36.7L408.2,37.2L406.8,37.5L405.1,37.7L403.3,37.8L401.5,37.8L399.9,37.7L398.7,37.5L397.8,37.3L397.5,37.2L397.6,37.1L398.3,37.2L399.5,37.4L400.9,37.7L402.6,38.1L404.3,38.7L406,39.4L407.3,40.1L408.3,40.9L408.8,41.6L408.8,42.3L408.3,42.9L407.2,43.4L405.8,43.7L404.1,44L402.3,44L400.5,44L399,43.9L397.7,43.7L396.9,43.6L396.7,42.6L396.9,42.6L397.6,42.7L398.7,43L400.1,43.6L401.7,44.3L403.3,45.1L404.8,46L406,46.9L406.9,47.8L407.3,48.6L407.1,49.3L406.5,49.8L405.4,50.1L404,50.3L402.3,50.2L400.5,50L398.7,49.8L397.2,49.4L395.9,49.1L395.1,48.8L394.9,48.6L395.1,48.6L395.8,48.8L396.9,49.1L398.3,49.6L399.9,50.3L401.6,51.1L403,52L404.3,53L405.1,53.8L405.5,54.6L405.3,55.3L404.7,55.8L403.4,56.5L401.9,56.5L400.2,56.3L398.4,56L396.7,55.6L395.2,55.1L394,54.7L393.3,54.3L393,54.1L393.2,54.1L394,54.4L395.1,54.8L396.4,55.4L398,56.3L399.5,57.2L400.9,58.2L402.1,59.2L402.8,60.2L403.1,61L402.9,61.7L402.2,62.1L401.1,62.4L399.6,62.4L397.9,62.2L396.1,61.9L394.4,61.4L393.2,61L392.9,60.8L393.2,60.9L393.8,61.2L394.6,61.7L395.4,62.3L396,63L395.2,63.2L394.5,63.4L394.1,63.7L393.9,64.2L394.1,64.8L394.4,65.6L394.8,66.3L395.1,67L395.2,67.6L393.8,68.9L393.3,68.6L392.8,68.1L392.3,67.5L391.8,66.8L391.3,66.3L390.8,66.1L390.3,66.2L389.8,66.6L389.2,67.2L388.7,67.9L388.2,68.5L387.7,68.8L387.2,68.9L386.7,68.6L386.2,68L385.7,67.4L385.2,66.7L383.8,66.6L383.4,66.9L383.1,67.3L383.1,68L383.2,68.9L383.3,69.7L383.3,70.4L383.1,71L382.7,71.3L382.1,71.4L381.3,71.3L380.4,71.2L379.6,71.1L379,71.2L378.6,71.6L378.3,72.3L378.5,73L378.7,73.8L379,74.6L379.1,75.3L379,75.8L378.6,76.1L377.9,76.3L377.1,76.4L376.3,76.4L375.6,76.6L375,76.8L374.7,77.2L374.7,77.8L374.9,78.6L375.2,79.4L375.5,80.1L375.5,80.8L375.4,81.3L374.9,81.6L374.3,81.8L373.5,81.8L372.6,81.9L371.9,82L371.4,82.3L371.2,82.7L372,83.9L372,84.6L372.2,85.2L372.4,85.6L372.9,85.9L373.5,86L374.2,86L374.9,86.1L375.5,86.2L375.9,86.5L376.3,87.2L376.1,87.8L375.9,88.5L375.8,89.1L375.7,89.7L375.9,90.2L376.3,90.6L376.9,90.9L377.6,91.3L377.8,91.9L377.9,92.5L377.7,93L377.3,93.4L376.7,93.7L376.1,94.1L375.6,94.4L375.2,94.9L375.1,95.4L375.3,96L375.6,96.6L375.8,97.3L376,97.9L376,98.4L375.7,98.9L375.2,99.3L374.6,99.6L374,100L373.5,100.4L373.3,100.8L373.3,101.4L373.6,101.9L373.7,102.6L373.7,103.3L373.7,103.8L373.4,104.3L372.9,104.6L372.3,104.8L371.7,104.9L371,105.1L370.6,105.4L370.3,105.8L370.2,106.4L370.2,107L370.3,107.7L370.4,108.3L370.3,108.9L370,109.3L369.5,109.6L368.9,109.8L368.3,109.9L367.6,110.1L367.2,110.4L366.9,110.8L366.8,111.4L366.9,112.1L367,112.7L367.1,113.2L367.2,113.8L367,114.2L366.6,114.6L366,115L365.4,115.3L364.9,115.7L364.5,116.1L364.4,116.6L364.5,117.1L364.8,117.7L365,118.4L365.2,119L365.3,119.5L365,120L364.6,120.3L364,120.7L363.4,121L362.9,121.4L362.6,121.8L362.5,122.3L362.6,122.9L362.9,123.5L363.2,124.1L363.3,124.7L363.3,125.2L363.1,125.7L362.7,126.1L362.1,126.4L361.5,126.7L361,127.1L360.7,127.5L360.6,128.1L360.8,128.6L361,129.2L361.3,129.9L361.5,130.5L361.5,131L361.2,131.4L360.8,131.8L360.2,132.1L359.6,132.5L359.1,132.8L358.8,133.3L358.8,133.8L358.9,134.4L359.2,135L359.5,135.6L359.6,136.2L359.6,136.7L359.3,137.1L358.8,137.5L358.2,137.8L357.7,138.2L357.2,138.5L356.9,139L356.8,139.5L357,140.1L357.3,140.7L357.5,141.3L357.7,141.9L357.6,142.4L357.4,142.8L356.9,143.2L356.3,143.5L355.7,143.9L355.2,144.2L355,144.7L354.9,145.2L355.1,145.8L355.4,146.4L355.7,147.1L355.8,147.7L355.8,148.2L355.4,148.6L354.9,149L354.3,149.4L353.7,149.8L353.3,150.2L353.2,150.7L353.3,151.3L353.6,152L353.9,152.6L354.2,153.2L354.2,153.8L354,154.3L353.5,154.7L352.9,155.1L352.3,155.6L351.9,156L351.8,156.6L351.9,157.1L352.4,157.8L350.4,157.8L344.3,155.7L339.7,156.8L333.3,160L328,168.6L323.6,175L318.7,183.7L316.8,186.6L314.9,192.4L311,189.5L307.1,188.5L301.3,189.5L297.5,191.4L292.7,205.9L285.9,200.1L279.1,199.1L273.3,204L262.7,190.4L257,191.5Z" fill="#e3dfb8"/>
<g clip-path="url(#c3)">
<path d="M326.8,51.8L337.5,43.2L348.3,36.8L359,32.5L369.7,29.8L380,28.8L391,27L399,24L410,22L410,60L395,75L380,92L372,92L360,90L345.7,89.5L333.7,94.6L316.5,105L299.3,117L282,117L279.6,110L282.2,103.2L290.8,96.4L299.3,89.5L307.9,80.9L311,74L322,72L333,72.5L320,68L312,66L316,62L319.3,60Z" fill="#fbf3a2"/>
<path d="M268.7,136L272.4,129.6L290.6,125L305.2,120.5L319,113L332,106.5L345,102L356,100L351.6,108.6L341,113L330,119.4L322,133L318,148L313,162L311,177L305.2,178.9L294.3,173.4L287,168L290.6,160.6L281.5,157L270.6,147.9Z" fill="#fbf3a2"/>
<path d="M334,128L342,118L352,112L362,106L360,125L356,138L352,147L342,148L336,140Z" fill="#fbf3a2"/>
<path d="M246,150L249,145L252,150L253,160L254,172L252,180L249,176L246,166Z" fill="#fbf3a2"/>
<path d="M336,142L340,128L350,114L362,102L372,96L366,104L356,114L346,126L340,140Z" fill="#cfcaa6"/>
<path d="M308,175L312,160L317,146L324,132L320,147L315,161L311,174Z" fill="#d6d1ad"/>
<path d="M254,168C254.3,166.8 255,162.3 256,160.6C257,158.8 258.2,157.8 260,157.5C261.8,157.2 265,157.9 267,158.8C269,159.7 270.5,161.2 272,163C273.5,164.8 274.5,167.1 276,169.8C277.5,172.5 279.5,176 281,179C282.5,182 283.7,184.5 285,188C286.3,191.5 288.2,198 288.8,200" fill="none" stroke="#cfc9a4" stroke-width="1.6"/>
<path d="M258,165C258.2,161.2 260.3,161.5 262,161C263.7,160.5 266.2,160.5 268,162C269.8,163.5 271.2,166.7 273,170C274.8,173.3 277.3,177.8 279,182C280.7,186.2 283.7,192 283,195C282.3,198 277.8,200 275,200C272.2,200 268.3,197.7 266,195C263.7,192.3 262.3,189 261,184C259.7,179 257.8,168.8 258,165Z" fill="#dcd7b2" opacity="0.6"/>
</g>
<path d="M345,282L354.3,279.2L364.6,277.5L376.7,277.5L388.7,280.9L399,285.2L405.8,286L411,284.3L417.9,279.2L423,276L418,292L410,305L398,314L383,317L368,312L358,298Z" fill="#c6c79a"/>
<path d="M366,302L366.1,301.1L366.3,300.4L366.6,299.7L367,299.2L367.4,298.6L367.9,298.1L368.5,297.6L369,297L369.5,296.5L370,296.1L370.5,295.6L371.1,295.1L371.7,294.7L372.3,294.3L373,293.8L373.6,293.4L374.3,292.9L374.9,292.5L375.5,292.1L376.1,291.7L376.7,291.2L377.3,290.7L378,290.3L378.6,289.9L379.2,289.5L379.9,289.1L380.5,288.8L381.2,288.5L381.8,288.3L382.6,288.1L383.3,288.1L384.1,288L384.9,288.1L385.6,288.2L386.4,288.3L387.2,288.5L387.9,288.7L388.7,289L389.3,289.3L390,289.6L390.6,289.9L391.2,290.3L391.9,290.7L392.5,291.1L393.1,291.6L393.8,292L394.4,292.5L394.9,293L395.5,293.5L396,294L396.6,294.5L397.1,295L397.6,295.6L398.1,296.1L398.6,296.7L399,297.3L399.5,297.9L399.9,298.6L400.3,299.3L400.7,300L401,300.6L401.3,301.2L401.7,301.8L402,302.5L402.4,303.1L402.7,303.8L403.1,304.6L403.4,305.3L403.7,306L403.9,306.7L404.1,307.4L404.2,308.1L404.2,308.7L404.1,309.4L404,310L403.8,310.5L403.5,311.1L403.2,311.6L402.9,312.2L402.4,312.7L402,313.3L401.5,313.8L400.9,314.4L400.4,314.9L399.7,315.4L399.1,315.8L398.5,316.3L397.8,316.7L397.1,317.1L396.4,317.4L395.7,317.7L395,318L394.4,318.2L393.8,318.3L393.1,318.5L392.5,318.6L391.8,318.7L391.1,318.8L390.3,318.8L389.6,318.9L388.8,318.9L388.1,318.9L387.3,318.9L386.5,318.8L385.8,318.8L385,318.7L384.2,318.7L383.5,318.6L382.8,318.5L382,318.4L381.3,318.3L380.7,318.1L380,318L379.3,317.8L378.6,317.6L377.8,317.4L377.1,317.2L376.4,317L375.6,316.7L374.9,316.4L374.2,316.1L373.5,315.8L372.9,315.5L372.2,315.1L371.6,314.8L370.9,314.4L370.4,314L369.8,313.6L369.3,313.2L368.8,312.8L368.4,312.4L368,312L367.5,311.4L367.1,310.7L366.8,310L366.6,309.3L366.3,308.5L366.2,307.7L366.1,306.9L366,306.1L365.9,305.4L365.9,304.6L365.9,303.9L365.9,303.2L366,302.6Z" fill="#ffffff"/>
<path d="M366,302L366.2,301.6L366.5,301.1L366.8,300.5L367.1,299.8L367.5,299.1L368,298.3L368.5,297.6L369,297L369.5,296.5L370,296.1L370.5,295.6L371.1,295.1L371.7,294.7L372.3,294.3L373,293.8L373.6,293.4L374.3,292.9L374.9,292.5L375.5,292.1L376.1,291.7L376.7,291.2L377.3,290.7L378,290.3L378.6,289.9L379.2,289.5L379.9,289.1L380.5,288.8L381.2,288.5L381.8,288.3L382.6,288.1L383.3,288.1L384.1,288L384.9,288.1L385.6,288.2L386.4,288.3L387.2,288.5L387.9,288.7L388.7,289L389.3,289.3L390,289.6L390.6,289.9L391.2,290.3L391.9,290.7L392.5,291.1L393.1,291.6L393.8,292L394.4,292.5L394.9,293L395.5,293.5L396.1,294L396.6,294.6L397.2,295.3L397.7,296L398.3,296.7L398.8,297.4L399.3,298L399.7,298.6L400.1,299.2L400.4,299.6L400.7,300" fill="none" stroke="#1a221c" stroke-width="1.0" stroke-linejoin="round" stroke-linecap="round"/>
<path d="M358.9,161.1L364.7,158.2L371.9,155.3L374.3,156.7L380.6,155.8L383,158.2L386.9,154.3L394.6,148L395.6,152.4L400.4,147.6L404.8,144.7L407.2,146.1L412,141.3L415.9,141.8L417.8,140.3L419.7,142.7L422.6,140.8L424.6,142.7L428.4,143.2L430,142.1L433.5,145L438.8,145.6L440.6,147.4L446.5,150.9L453.6,149.2L457.1,148.6L458.3,152.1L461.9,151.5L463,153.9L470.1,156.8L473.7,156.2L476.6,159.2L481.9,163.3L486.6,168L489,172.8L493.7,173.3L496.1,176.3L497.8,182.2L497.3,186.9L500.8,183.4L505.5,182.2L510,183.4L510.5,189.8L506.2,194L507.3,201.6L512.7,205.9L513.7,214.5L514,221.5L514,238.7L517.3,245L524.8,252.6L530.2,250.5L536.6,248.3L547.4,247.2L561.3,246.2L563.5,251.5L564.5,262.3L563.7,266.4L559.4,277.2L553,287.9L544.4,298.6L536.9,305L531.5,309.3L527.2,315.8L516.5,322.2L501.5,333L484.3,338.3L468.3,339.4L467,330L464.2,315.6L449.7,317.4L438.7,315.6L432.4,301.9L436.9,291.9L436,282.8L437.8,273.6L435,279.2L431.6,275.8L428.2,274L423,275.8L417.9,279.2L411,284.3L405.8,286L399,285.2L388.7,280.9L376.7,277.5L364.6,277.5L354.3,279.2L347.5,280.9L340.6,272.3L333.7,263.7L330.3,255.2L324,253L356,252L354.8,230L356.3,207.3L357,183.7Z" fill="#fdd08e"/>
<g clip-path="url(#c4)">
<path d="M378,170C378.3,167.8 382,166.2 385,165C388,163.8 392.7,162.8 396,163C399.3,163.2 403.2,164.5 405,166C406.8,167.5 407.8,170 407,172C406.2,174 402,175.7 400,178C398,180.3 396.7,185.7 395,186C393.3,186.3 392,181.3 390,180C388,178.7 385,179.7 383,178C381,176.3 377.7,172.2 378,170Z" fill="#dfc9a6" opacity="0.7"/>
<path d="M362,165C362.7,162.7 366,161.8 368,162C370,162.2 373.7,164 374,166C374.3,168 371.7,172.3 370,174C368.3,175.7 365.3,177.5 364,176C362.7,174.5 361.3,167.3 362,165Z" fill="#dfc9a6" opacity="0.7"/>
<path d="M359,190C360.2,179.7 364.2,190.7 366,194C367.8,197.3 368.3,204.7 370,210C371.7,215.3 373.7,221.7 376,226C378.3,230.3 380.3,233 384,236C387.7,239 392,242 398,244C404,246 411.3,247.5 420,248C428.7,248.5 441.7,247.3 450,247C458.3,246.7 461.7,245.8 470,246C478.3,246.2 491.7,247 500,248C508.3,249 516.7,249.7 520,252C523.3,254.3 540,260.3 520,262C500,263.7 426.8,263 400,262C373.2,261 365.8,268 359,256C352.2,244 357.8,200.3 359,190Z" fill="#dfc9a6" opacity="0.7"/>
<path d="M383,232C383.5,229.7 390.5,225.3 395,222C399.5,218.7 405,215 410,212C415,209 421.3,205 425,204C428.7,203 432.8,204.2 432,206C431.2,207.8 424.5,211.7 420,215C415.5,218.3 409.7,222.5 405,226C400.3,229.5 395.7,235 392,236C388.3,237 382.5,234.3 383,232Z" fill="#dfc9a6" opacity="0.7"/>
<path d="M505,185C505,184.7 508.8,191.7 508,195C507.2,198.3 504.2,202.5 500,205C495.8,207.5 484.7,208.3 483,210C481.3,211.7 488,212.5 490,215C492,217.5 494.3,221.7 495,225C495.7,228.3 493.7,230.8 494,235C494.3,239.2 493,247.2 497,250C501,252.8 515,253.7 518,252C521,250.3 515.7,245 515,240C514.3,235 514.3,227.7 514,222C513.7,216.3 514,210.2 513,206C512,201.8 509.3,200.5 508,197C506.7,193.5 505,185.3 505,185Z" fill="#dfc9a6" opacity="0.7"/>
<path d="M455,162C455.8,160.7 464.7,158.7 470,160C475.3,161.3 485.3,168 487,170C488.7,172 483.7,172.3 480,172C476.3,171.7 469.2,169.7 465,168C460.8,166.3 454.2,163.3 455,162Z" fill="#dfc9a6" opacity="0.7"/>
<path d="M440,190C440.8,188.5 451.2,184.7 455,184C458.8,183.3 463.8,184.5 463,186C462.2,187.5 453.8,192.3 450,193C446.2,193.7 439.2,191.5 440,190Z" fill="#dfc9a6" opacity="0.7"/>
<path d="M470,300C473.3,292.3 482.5,294 490,292C497.5,290 506.7,288 515,288C523.3,288 537.2,288.3 540,292C542.8,295.7 536.7,304.5 532,310C527.3,315.5 518.7,321 512,325C505.3,329 499,331.8 492,334C485,336.2 473.7,343.7 470,338C466.3,332.3 466.7,307.7 470,300Z" fill="#dfc9a6" opacity="0.7"/>
<path d="M335,262C337.5,260.3 349.2,264.7 360,266C370.8,267.3 386.7,269.7 400,270C413.3,270.3 428.3,267.7 440,268C451.7,268.3 456.7,271.7 470,272C483.3,272.3 508.3,268.7 520,270C531.7,271.3 548.3,277.5 540,280C531.7,282.5 488.3,285 470,285C451.7,285 445,281.5 430,280C415,278.5 394.2,276.7 380,276C365.8,275.3 352.5,278.3 345,276C337.5,273.7 332.5,263.7 335,262Z" fill="#dfc9a6" opacity="0.7"/>
</g>
<path d="M431,276L437.8,273.6L438,300L430,300Z" fill="#e8cfa5"/>
<path d="M437.8,273.6L446,270L457,271.8L462.4,279.1L466.1,291.9L464.2,304.6L459.7,315.6L449.7,317.4L438.7,315.6L432.4,301.9L436.9,291.9L436,282.8Z" fill="#e8cfa5"/>
<path d="M444,274L444.4,273.5L444.9,272.9L445.5,272.4L446.2,271.9L446.9,271.5L447.7,271.1L448.5,270.8L449.3,270.6L450,270.5L450.7,270.5L451.4,270.5L452.2,270.6L453,270.8L453.8,271L454.5,271.3L455.2,271.7L455.9,272.1L456.5,272.5L457,273L457.4,273.5L457.7,274.1L458,274.7L458.2,275.4L458.4,276.1L458.6,276.9L458.7,277.6L458.8,278.5L458.9,279.3L459,280.1L459,281L459,281.7L459,282.4L458.9,283.1L458.9,283.9L458.8,284.7L458.7,285.5L458.6,286.3L458.5,287.2L458.3,288L458.2,288.7L458.1,289.5L457.9,290.2L457.8,290.9L457.6,291.5L457.5,292L457.1,293.2L456.8,294.3L456.3,295.2L455.9,295.8L455.5,296.1L455,296L454.8,295.7L454.5,295.2L454.3,294.6L454,293.8L453.8,292.9L453.5,292L453.3,291.1L453,290.2L452.8,289.4L452.5,288.8L452.3,288.3L452,288L451.6,288L451.1,288.6L450.7,289.4L450.3,290.4L449.9,291.2L449.4,291.8L449,292L448.7,291.8L448.3,291.3L447.9,290.7L447.6,290L447.2,289.2L446.9,288.4L446.6,287.5L446.3,286.7L446,286L445.7,285.2L445.5,284.5L445.3,283.8L445.1,283L444.9,282.2L444.8,281.5L444.6,280.8L444.5,280L444.3,279.2L444.2,278.4L444,277.6L443.8,276.8L443.7,276.1L443.6,275.3L443.7,274.6Z" fill="url(#gc)"/>
<path d="M438.7,315.6L449.7,317.4L452.2,315.8L444,330L430.7,344.7L433,330Z" fill="#e8cfa5"/>
<path d="M333.3,160L336,156.5L338,158.5L341,155.5L344.3,155.7L347,157.5L350.4,156.8L354,158.5L358,160L359,162.2L357,183.7L356.3,207.3L354.8,230L356,252L322.8,254.2L323.6,238.7L326.5,229L325.5,213.6L322.6,194.3L321.6,184.7L323.6,175L328,168.6Z" fill="#edbad8"/>
<g clip-path="url(#c5)">
<path d="M322,217C323.7,212.2 327.2,226 330,229C332.8,232 336.5,235 339,235C341.5,235 343,231.5 345,229C347,226.5 349,223.5 351,220C353,216.5 355.2,210.3 357,208C358.8,205.7 361.2,197.7 362,206C362.8,214.3 369,249.3 362,258C355,266.7 326.7,264.8 320,258C313.3,251.2 320.3,221.8 322,217Z" fill="#d4b6cf"/>
<path d="M328,175C329.7,170.5 332.7,169.2 336,168C339.3,166.8 345.3,166 348,168C350.7,170 351.7,174.7 352,180C352.3,185.3 351.3,194.2 350,200C348.7,205.8 346.3,211.3 344,215C341.7,218.7 338.5,222.5 336,222C333.5,221.5 330.7,216.5 329,212C327.3,207.5 326.2,201.2 326,195C325.8,188.8 326.3,179.5 328,175Z" fill="#f2c6e2" opacity="0.7"/>
</g>
<path d="M228,238.7L226.1,243.9L225.5,250.9L225.5,259.3L229,262L233.1,266.2L235.9,271.8L237.3,277.4L238,286.3L236.7,290.2L231.5,292.7L223.8,294L216,294L212.2,296L211.5,299.2L213.5,304.3L215.4,310.8L215.4,318.5L213.5,326.2L210.2,332.7L207.7,339.1L206,345L210,362L336,362L337,300L345,282L322.2,303.2L293.8,317.3L286.8,318.5L283.2,310.2L279.7,298.4L276.1,284.3L272.6,272.5L265.5,267.8L260.8,261.9L262,258.3L267.9,252.4L274.3,250.3L282,246.5L278.2,243.6L275.3,238.7L272.4,231L271.4,221.3L272.4,213.6L273.3,204L262.7,190.4L257,191.5L253.7,202.2L243,213L237.6,223.7L234.4,232.3Z" fill="#dce08a"/>
<g clip-path="url(#c6)">
<path d="M226,248C228.2,246.7 235.2,248.8 240,250C244.8,251.2 250.8,253 255,255C259.2,257 262.8,259.5 265,262C267.2,264.5 269.2,269 268,270C266.8,271 261.8,269.2 258,268C254.2,266.8 249.3,264 245,263C240.7,262 235,262.8 232,262C229,261.2 228,260.3 227,258C226,255.7 223.8,249.3 226,248Z" fill="#cfcf9c"/>
<path d="M247,268C247.8,266.3 252.5,268 255,270C257.5,272 259.8,275.8 262,280C264.2,284.2 266.7,290 268,295C269.3,300 271,308.3 270,310C269,311.7 264.5,308.3 262,305C259.5,301.7 257,294.2 255,290C253,285.8 251.3,283.7 250,280C248.7,276.3 246.2,269.7 247,268Z" fill="#d2d29e"/>
<path d="M262,240C263.2,237 269.3,235.2 272,236C274.7,236.8 278,242.3 278,245C278,247.7 274.2,250.5 272,252C269.8,253.5 266.7,256 265,254C263.3,252 260.8,243 262,240Z" fill="#d0cfa0"/>
<path d="M262,196C262.7,193.5 264.7,197.3 266,200C267.3,202.7 269.2,207 270,212C270.8,217 270.3,225.3 271,230C271.7,234.7 274.5,237.5 274,240C273.5,242.5 269.7,246.7 268,245C266.3,243.3 265,235 264,230C263,225 262.3,220.7 262,215C261.7,209.3 261.3,198.5 262,196Z" fill="#d3d2a4"/>
<path d="M285,322C287.8,319.2 298.3,316.2 305,313C311.7,309.8 319.2,305.8 325,303C330.8,300.2 337.5,291.2 340,296C342.5,300.8 343.3,325.2 340,332C336.7,338.8 326.7,336.3 320,337C313.3,337.7 305.3,337.2 300,336C294.7,334.8 290.5,332.3 288,330C285.5,327.7 282.2,324.8 285,322Z" fill="#c9c99a"/>
<path d="M212,300C213.3,295.7 216.3,294.3 218,296C219.7,297.7 222,305.2 222,310C222,314.8 219.3,320.3 218,325C216.7,329.7 215.7,335.8 214,338C212.3,340.2 208.7,340.7 208,338C207.3,335.3 209.3,328.3 210,322C210.7,315.7 210.7,304.3 212,300Z" fill="#cfd092"/>
</g>
<path d="M297.5,191.4L301.3,189.5L307.1,188.5L311,189.5L314.9,192.4L316.8,186.6L318.7,183.7L319.7,194.3L320.7,205.9L323.6,213.6L324.5,223.3L321.6,233L320.7,244.5L321.6,254.2L324,253L330.3,255.2L333.7,263.7L340.6,272.3L347.5,280.9L341,286.6L336.3,291.4L331.6,296L322.2,303.2L308,310.2L293.8,317.3L286.8,318.5L283.2,310.2L279.7,298.4L276.1,284.3L272.6,272.5L265.5,267.8L260.8,261.9L262,258.3L267.9,252.4L274.3,250.3L282,246.5L289.8,240.7L293.6,231L295.6,219.4L296.5,204Z" fill="#ffffff"/>
<g clip-path="url(#c7)">
<path d="M303,212C303.7,207.5 307.5,205.3 310,205C312.5,204.7 316.5,206.7 318,210C319.5,213.3 319.7,220.8 319,225C318.3,229.2 316.2,233.8 314,235C311.8,236.2 307.8,235.8 306,232C304.2,228.2 302.3,216.5 303,212Z" fill="#e4e4e6"/>
<path d="M262,256C263.2,253.3 270.3,253.5 275,252C279.7,250.5 286.2,249 290,247C293.8,245 296.3,239.2 298,240C299.7,240.8 300,247.3 300,252C300,256.7 299.3,262.5 298,268C296.7,273.5 294.2,279.7 292,285C289.8,290.3 287.2,298.2 285,300C282.8,301.8 280.8,299.3 279,296C277.2,292.7 275.8,284.7 274,280C272.2,275.3 270,272 268,268C266,264 260.8,258.7 262,256Z" fill="#e4e4e7"/>
<path d="M276,284C276.5,280.7 281,281.2 285,280C289,278.8 295,278 300,277C305,276 310,275.2 315,274C320,272.8 326.2,270.3 330,270C333.8,269.7 338.7,270 338,272C337.3,274 331,279 326,282C321,285 313.7,287.7 308,290C302.3,292.3 296.3,294.3 292,296C287.7,297.7 284.7,302 282,300C279.3,298 275.5,287.3 276,284Z" fill="#e6e6e8"/>
<path d="M290,312C292.2,309.8 300,307.3 305,305C310,302.7 315,300.7 320,298C325,295.3 331.7,290 335,289C338.3,288 341.7,289.7 340,292C338.3,294.3 330.8,299.7 325,303C319.2,306.3 310.5,309.5 305,312C299.5,314.5 294.5,318 292,318C289.5,318 287.8,314.2 290,312Z" fill="#e8e8ea"/>
</g>
<path d="M252.6,180.7L257,191.5L253.7,202.2L243,213L237.6,223.7L234.4,232.3L228,238.7L223.6,234.4L222.5,228L217.2,222.6L221.5,215L232.2,206.5L245,195.8L250.5,185Z" fill="#62c396"/>
<path d="M252.6,180.7L257,191.5L253.7,202.2L243,213L237.6,223.7L234.4,232.3L228,238.7L223.6,234.4L222.5,228L217.2,222.6L221.5,215L232.2,206.5L245,195.8L250.5,185Z" fill="none" stroke="#1a221c" stroke-width="1.1" stroke-linejoin="round" stroke-linecap="round"/>
<path d="M273.3,204L279.1,199.1L285.9,200.1L292.7,205.9L295.6,213.6L294.6,223.3L291.7,233L289.8,238.7L284,241.6L278.2,243.6L275.3,238.7L272.4,231L271.4,221.3L272.4,213.6Z" fill="#d8c4b2"/>
<path d="M287.8,209.8L292.7,206.9L295.6,213.6L294.6,225.2L291.7,234.9L289.8,238.7L289.8,229L290.7,219.4L288.8,213.6Z" fill="#ef8b6e"/>
<path d="M273.3,204L279.1,199.1L285.9,200.1L292.7,205.9L295.6,213.6L294.6,223.3L291.7,233L289.8,238.7L284,241.6L278.2,243.6L275.3,238.7L272.4,231L271.4,221.3L272.4,213.6Z" fill="none" stroke="#1a221c" stroke-width="1.0" stroke-linejoin="round" stroke-linecap="round"/>
<path d="M216,392L215.7,396.6L218.2,403.2L221.5,411.4L220.7,421.4L217.4,428L214.9,434.6L214.1,441.2L216.6,449.5L221.5,454.4L229.8,458L242,459.8L254.2,458.7L266.2,457.5L278.3,456.9L290.4,453.3L302.5,452.1L314.5,451.5L330,449.7L350,443.8L364.2,439.1L378.3,432L387.8,422.6L392.5,413.2L394.8,401.4L397.2,387.2L400.7,373L406.6,354.2L409.5,342.5L416.9,330.1L422.3,317.4L427.8,306.4L432.4,293.7L434.2,284.3L433.3,279.2L430,275.8L423,277.5L416,282.6L412.7,289.5L411,298L405.8,306.7L395.5,311.8L385.2,314.4L375,311.8L368,305L362.9,296.4L357.8,287.8L354.3,280L345.8,282.6L337.2,286L336.3,301.5L335.8,321.4L337.5,342.9L337.9,355.8L336.8,362L300,362L260,364L216,366Z" fill="#d2f0fc"/>
<g clip-path="url(#c8)">
<path d="M217,394C217.7,393 221.8,395.3 224,396C226.2,396.7 227.3,397.8 230,398C232.7,398.2 238.2,395.3 240,397C241.8,398.7 242.3,405.7 241,408C239.7,410.3 234.2,409 232,411C229.8,413 229,416.8 228,420C227,423.2 227,426.7 226,430C225,433.3 223.2,437.5 222,440C220.8,442.5 220,445.7 219,445C218,444.3 215.8,439.3 216,436C216.2,432.7 219,429 220,425C221,421 222,415.8 222,412C222,408.2 220.8,405 220,402C219.2,399 216.3,395 217,394Z" fill="#c6d5de"/>
<path d="M228,455C229.7,453.7 240.3,453.5 245,452C249.7,450.5 253.5,448.2 256,446C258.5,443.8 258.7,439 260,439C261.3,439 259.8,445.3 264,446C268.2,446.7 279,444 285,443C291,442 294.2,441 300,440C305.8,439 314.2,438.7 320,437C325.8,435.3 330.8,430.8 335,430C339.2,429.2 340.8,432.7 345,432C349.2,431.3 355.5,428.3 360,426C364.5,423.7 367.8,421.7 372,418C376.2,414.3 381.7,407.8 385,404C388.3,400.2 389.8,395.7 392,395C394.2,394.3 397.3,396.5 398,400C398.7,403.5 397.3,411 396,416C394.7,421 393.5,425.8 390,430C386.5,434.2 381.7,438 375,441C368.3,444 359.2,446.2 350,448C340.8,449.8 330,450.7 320,452C310,453.3 300,454.8 290,456C280,457.2 269.2,458.3 260,459C250.8,459.7 240.3,460.7 235,460C229.7,459.3 226.3,456.3 228,455Z" fill="#c6d5de"/>
<path d="M338,290C339.2,276.7 342.7,285 345,285C347.3,285 351.2,285.8 352,290C352.8,294.2 350.7,303.3 350,310C349.3,316.7 348,323.3 348,330C348,336.7 349.3,344.2 350,350C350.7,355.8 352.8,361.3 352,365C351.2,368.7 347.3,372 345,372C342.7,372 339.2,378.7 338,365C336.8,351.3 336.8,303.3 338,290Z" fill="#c6d5de"/>
<path d="M418,290C420.8,285.3 425.7,282.3 428,284C430.3,285.7 432.7,294.3 432,300C431.3,305.7 426.7,311.3 424,318C421.3,324.7 418.7,332.7 416,340C413.3,347.3 410.3,355 408,362C405.7,369 403.7,376.7 402,382C400.3,387.3 399.2,394 398,394C396.8,394 394.8,387.7 395,382C395.2,376.3 397.3,367.7 399,360C400.7,352.3 403,344 405,336C407,328 408.8,319.7 411,312C413.2,304.3 415.2,294.7 418,290Z" fill="#c6d5de"/>
<path d="M284,385C285.7,383.2 294,384.3 300,383C306,381.7 314,379.2 320,377C326,374.8 332.7,369.5 336,370C339.3,370.5 341,377 340,380C339,383 335,386 330,388C325,390 316.7,391 310,392C303.3,393 294.3,395.2 290,394C285.7,392.8 282.3,386.8 284,385Z" fill="#c6d5de"/>
</g>
<ellipse cx="254.3" cy="426.1" rx="2" ry="1.5" fill="#333"/>
<path d="M216,392L215.7,396.6L218.2,403.2L221.5,411.4L220.7,421.4L217.4,428L214.9,434.6L214.1,441.2L216.6,449.5L221.5,454.4L229.8,458L242,459.8L254.2,458.7L266.2,457.5L278.3,456.9L290.4,453.3L302.5,452.1L314.5,451.5L330,449.7L350,443.8L364.2,439.1L378.3,432L387.8,422.6L392.5,413.2L394.8,401.4L397.2,387.2L400.7,373L406.6,354.2L409.5,342.5L416.9,330.1L422.3,317.4L427.8,306.4L432.4,293.7L434.2,284.3L433.3,279.2L430,275.8L423,277.5L416,282.6L412.7,289.5L411,298L405.8,306.7L395.5,311.8L385.2,314.4L375,311.8L368,305L362.9,296.4L357.8,287.8L354.3,280L345.8,282.6L337.2,286L336.3,301.5L335.8,321.4L337.5,342.9L337.9,355.8" fill="none" stroke="#1a221c" stroke-width="1.1" stroke-linejoin="round" stroke-linecap="round"/>
<path d="M218.3,378.8L218.2,381.5L218,383.3L217.8,384.9L217.5,386.3L217.3,387.5L216.9,388.6L216.6,389.5L216.2,390.3L215.7,390.8L215.2,391.3L214.6,391.5L213.8,391.6L213,391.5L212.4,391.3L211.9,390.8L211.4,390.3L211,389.5L210.7,388.6L210.3,387.5L210.1,386.3L209.8,384.9L209.6,383.3L209.4,381.5L209.3,378.8L209.3,376.1L209.4,374.3L209.6,372.7L209.8,371.3L210,370.1L210.4,369L210.7,368.1L211.2,367.3L211.7,366.8L212.2,366.3L212.9,366.1L213.8,366L214.7,366.1L215.4,366.3L215.9,366.8L216.4,367.3L216.9,368.1L217.2,369L217.6,370.1L217.8,371.3L218,372.7L218.2,374.3L218.3,376.1Z" fill="#fff" stroke="#1a221c" stroke-width="1.7" stroke-linejoin="round"/>
<path d="M229.6,381.5L229.4,384.2L229.1,386.1L228.7,387.7L228.3,389.2L227.9,390.4L227.3,391.5L226.7,392.5L226,393.2L225.2,393.8L224.4,394.3L223.4,394.5L222.1,394.6L220.7,394.5L219.7,394.3L218.9,393.8L218.1,393.2L217.4,392.5L216.8,391.5L216.2,390.4L215.8,389.2L215.4,387.7L215,386.1L214.7,384.2L214.5,381.5L214.5,378.7L214.7,376.8L214.9,375.2L215.3,373.7L215.7,372.5L216.3,371.4L216.9,370.4L217.6,369.7L218.4,369.1L219.4,368.6L220.5,368.4L222,368.3L223.6,368.4L224.7,368.6L225.7,369.1L226.5,369.7L227.2,370.4L227.8,371.4L228.4,372.5L228.8,373.7L229.2,375.2L229.4,376.8L229.6,378.7Z" fill="#fff" stroke="#1a221c" stroke-width="1.7" stroke-linejoin="round"/>
<path d="M241.6,380.7L241.4,383.3L241.1,385.1L240.8,386.6L240.4,388L239.9,389.2L239.4,390.2L238.8,391.1L238.2,391.8L237.5,392.4L236.7,392.8L235.8,393L234.5,393.1L233.1,393L232.2,392.8L231.4,392.4L230.7,391.8L230.1,391.1L229.5,390.2L229,389.2L228.5,388L228.1,386.6L227.8,385.1L227.5,383.3L227.3,380.7L227.3,378.1L227.5,376.3L227.7,374.8L228,373.4L228.5,372.2L229,371.2L229.6,370.3L230.3,369.6L231,369L231.9,368.6L233,368.4L234.4,368.3L235.9,368.4L237,368.6L237.9,369L238.6,369.6L239.3,370.3L239.9,371.2L240.4,372.2L240.9,373.4L241.2,374.8L241.4,376.3L241.6,378.1Z" fill="#fff" stroke="#1a221c" stroke-width="1.7" stroke-linejoin="round"/>
<path d="M256.6,381.1L256.3,383.6L256,385.3L255.7,386.8L255.2,388.1L254.7,389.3L254.1,390.3L253.4,391.1L252.7,391.8L251.8,392.4L250.9,392.8L249.9,393L248.4,393.1L246.8,393L245.8,392.8L244.9,392.4L244,391.8L243.3,391.1L242.6,390.3L242,389.3L241.5,388.1L241,386.8L240.7,385.3L240.4,383.6L240.1,381.1L240.2,378.5L240.3,376.8L240.6,375.3L241,374L241.4,372.8L242,371.8L242.7,371L243.5,370.3L244.4,369.7L245.4,369.3L246.6,369.1L248.3,369L250.1,369.1L251.3,369.3L252.3,369.7L253.2,370.3L254,371L254.7,371.8L255.3,372.8L255.7,374L256.1,375.3L256.4,376.8L256.5,378.5Z" fill="#fff" stroke="#1a221c" stroke-width="1.7" stroke-linejoin="round"/>
<path d="M283.7,380L283.2,382.1L282.7,383.5L282.1,384.8L281.3,385.9L280.4,386.9L279.3,387.7L278.2,388.4L276.9,389L275.5,389.5L273.9,389.8L272,390L269.4,390.1L266.8,390L264.9,389.8L263.3,389.5L261.9,389L260.6,388.4L259.5,387.7L258.4,386.9L257.5,385.9L256.7,384.8L256.1,383.5L255.6,382.1L255.1,380L255.2,377.8L255.5,376.4L255.9,375.1L256.6,374L257.4,373L258.4,372.2L259.6,371.5L261,370.9L262.6,370.4L264.3,370.1L266.4,369.9L269.4,369.8L272.4,369.9L274.5,370.1L276.2,370.4L277.8,370.9L279.2,371.5L280.4,372.2L281.4,373L282.2,374L282.9,375.1L283.3,376.4L283.6,377.8Z" fill="#fff" stroke="#1a221c" stroke-width="1.7" stroke-linejoin="round"/>
<path d="M312.2,376.1L311.8,378.2L311.3,379.6L310.6,380.8L309.9,381.8L309,382.7L308,383.5L306.8,384.2L305.6,384.8L304.2,385.2L302.6,385.5L300.8,385.7L298.3,385.8L295.7,385.7L293.9,385.5L292.3,385.2L290.9,384.8L289.7,384.2L288.5,383.5L287.5,382.7L286.6,381.8L285.9,380.8L285.2,379.6L284.7,378.2L284.3,376.2L284.4,374.1L284.7,372.7L285.1,371.5L285.8,370.5L286.6,369.6L287.6,368.8L288.7,368.1L290.1,367.5L291.6,367.1L293.3,366.8L295.3,366.6L298.2,366.5L301.2,366.6L303.2,366.8L304.9,367.1L306.4,367.5L307.8,368.1L308.9,368.8L309.9,369.6L310.7,370.5L311.4,371.5L311.8,372.7L312.1,374.1Z" fill="#fff" stroke="#1a221c" stroke-width="1.7" stroke-linejoin="round"/>
<path d="M336.2,369.2L335.8,371.3L335.4,372.8L334.8,374.1L334.2,375.2L333.4,376.2L332.5,377L331.6,377.7L330.5,378.3L329.3,378.8L327.9,379.1L326.4,379.3L324.2,379.4L322,379.3L320.5,379.1L319.1,378.8L317.9,378.3L316.8,377.7L315.9,377L315,376.2L314.2,375.2L313.6,374.1L313,372.8L312.6,371.3L312.2,369.2L312.3,367.1L312.5,365.6L312.9,364.3L313.5,363.2L314.2,362.2L315,361.4L316,360.7L317.2,360.1L318.5,359.6L320,359.3L321.7,359.1L324.2,359L326.7,359.1L328.4,359.3L329.9,359.6L331.2,360.1L332.4,360.7L333.4,361.4L334.2,362.2L334.9,363.2L335.5,364.3L335.9,365.6L336.1,367.1Z" fill="#fff" stroke="#1a221c" stroke-width="1.7" stroke-linejoin="round"/>
<path d="M213,353.6L213,356.1L212.9,357.8L212.7,359.2L212.5,360.5L212.3,361.6L211.9,362.6L211.6,363.4L211.1,364.1L210.6,364.6L210.1,365L209.4,365.2L208.5,365.3L207.6,365.2L206.9,365L206.4,364.6L205.9,364.1L205.4,363.4L205.1,362.6L204.7,361.6L204.5,360.5L204.3,359.2L204.1,357.8L204,356.1L204,353.7L204.1,351.2L204.3,349.5L204.5,348.1L204.8,346.8L205,345.7L205.4,344.7L205.7,343.9L206.1,343.2L206.6,342.7L207.1,342.3L207.7,342.1L208.5,342L209.3,342.1L209.9,342.3L210.4,342.7L210.9,343.2L211.3,343.9L211.6,344.7L212,345.7L212.2,346.8L212.5,348.1L212.7,349.5L212.9,351.2Z" fill="#fff" stroke="#1a221c" stroke-width="1.7" stroke-linejoin="round"/>
<path d="M219,354.5L219,357.2L218.9,359.1L218.7,360.7L218.4,362.2L218.1,363.4L217.7,364.5L217.2,365.5L216.7,366.2L216.1,366.8L215.4,367.3L214.6,367.5L213.4,367.6L212.2,367.5L211.4,367.3L210.7,366.8L210.1,366.2L209.6,365.5L209.1,364.5L208.7,363.4L208.4,362.2L208.1,360.7L207.9,359.1L207.8,357.2L207.8,354.5L208,351.7L208.2,349.8L208.4,348.2L208.7,346.7L209.1,345.5L209.5,344.4L210,343.4L210.5,342.7L211,342.1L211.7,341.6L212.4,341.4L213.4,341.3L214.4,341.4L215.1,341.6L215.8,342.1L216.3,342.7L216.8,343.4L217.3,344.4L217.7,345.5L218.1,346.7L218.4,348.2L218.6,349.8L218.8,351.7Z" fill="#fff" stroke="#1a221c" stroke-width="1.7" stroke-linejoin="round"/>
<path d="M234,355.6L233.9,358.7L233.8,360.9L233.5,362.7L233.1,364.4L232.6,365.8L232,367.1L231.3,368.1L230.4,369L229.5,369.7L228.4,370.2L227.2,370.5L225.4,370.6L223.6,370.5L222.4,370.2L221.3,369.7L220.4,369L219.5,368.1L218.8,367.1L218.2,365.8L217.7,364.4L217.3,362.7L217,360.9L216.9,358.7L216.8,355.6L217.1,352.4L217.4,350.2L217.8,348.4L218.2,346.7L218.8,345.3L219.4,344L220.1,343L220.9,342.1L221.8,341.4L222.7,340.9L223.8,340.6L225.4,340.5L227,340.6L228.1,340.9L229,341.4L229.9,342.1L230.7,343L231.4,344L232,345.3L232.6,346.7L233,348.4L233.4,350.2L233.7,352.4Z" fill="#fff" stroke="#1a221c" stroke-width="1.7" stroke-linejoin="round"/>
<path d="M249.9,357.8L249.8,360.8L249.6,362.9L249.3,364.6L248.9,366.2L248.3,367.6L247.6,368.8L246.8,369.8L245.8,370.6L244.8,371.3L243.6,371.7L242.1,372L240.1,372.1L238.1,372L236.6,371.7L235.4,371.3L234.4,370.6L233.4,369.8L232.6,368.8L231.9,367.6L231.3,366.2L230.9,364.6L230.6,362.9L230.4,360.8L230.3,357.8L230.6,354.8L231,352.7L231.4,351L231.9,349.4L232.6,348L233.3,346.8L234.1,345.8L235,345L235.9,344.3L237,343.9L238.3,343.6L240.1,343.5L241.9,343.6L243.2,343.9L244.3,344.3L245.2,345L246.1,345.8L246.9,346.8L247.6,348L248.3,349.4L248.8,351L249.2,352.7L249.6,354.8Z" fill="#fff" stroke="#1a221c" stroke-width="1.7" stroke-linejoin="round"/>
<path d="M264.1,359L264,361.4L263.9,363.1L263.6,364.5L263.2,365.8L262.8,366.9L262.2,367.9L261.5,368.7L260.7,369.4L259.8,369.9L258.8,370.3L257.6,370.5L255.9,370.6L254.1,370.5L252.9,370.3L251.9,369.9L251,369.4L250.2,368.7L249.5,367.9L248.9,366.9L248.5,365.8L248.1,364.5L247.8,363.1L247.7,361.4L247.6,359L247.9,356.5L248.2,354.8L248.5,353.4L249,352.1L249.5,351L250.1,350L250.8,349.2L251.5,348.5L252.4,348L253.3,347.6L254.3,347.4L255.8,347.3L257.4,347.4L258.4,347.6L259.3,348L260.2,348.5L260.9,349.2L261.6,350L262.2,351L262.7,352.1L263.2,353.4L263.5,354.8L263.8,356.5Z" fill="#fff" stroke="#1a221c" stroke-width="1.7" stroke-linejoin="round"/>
<path d="M288.2,359.3L288.1,362L287.9,363.8L287.5,365.4L286.9,366.8L286.2,368L285.4,369.1L284.4,370L283.2,370.8L281.9,371.3L280.4,371.8L278.7,372L276.2,372.1L273.6,372L271.9,371.8L270.4,371.3L269.1,370.8L267.9,370L266.9,369.1L266.1,368L265.4,366.8L264.8,365.4L264.4,363.8L264.2,362L264.1,359.3L264.5,356.6L264.9,354.8L265.5,353.2L266.1,351.8L266.9,350.6L267.8,349.5L268.8,348.6L269.8,347.8L271,347.3L272.4,346.8L273.9,346.6L276.1,346.5L278.4,346.6L279.9,346.8L281.3,347.3L282.5,347.8L283.5,348.6L284.5,349.5L285.4,350.6L286.2,351.8L286.8,353.2L287.4,354.8L287.8,356.6Z" fill="#fff" stroke="#1a221c" stroke-width="1.7" stroke-linejoin="round"/>
<path d="M312.2,355.8L312.1,358L311.9,359.6L311.5,360.9L310.9,362.1L310.2,363.1L309.3,364L308.3,364.7L307.1,365.4L305.7,365.9L304.2,366.2L302.4,366.4L299.9,366.5L297.3,366.4L295.5,366.2L294,365.9L292.6,365.4L291.4,364.7L290.4,364L289.5,363.1L288.8,362.1L288.2,360.9L287.8,359.6L287.6,358L287.5,355.8L287.9,353.5L288.3,351.9L288.9,350.6L289.6,349.4L290.4,348.4L291.3,347.5L292.3,346.8L293.4,346.1L294.6,345.6L296,345.3L297.6,345.1L299.8,345L302.1,345.1L303.7,345.3L305.1,345.6L306.3,346.1L307.4,346.8L308.4,347.5L309.3,348.4L310.1,349.4L310.8,350.6L311.4,351.9L311.8,353.5Z" fill="#fff" stroke="#1a221c" stroke-width="1.7" stroke-linejoin="round"/>
<path d="M336.8,350.4L336.7,352.4L336.5,353.8L336.1,355L335.5,356L334.8,356.9L333.9,357.7L332.9,358.4L331.7,359L330.4,359.4L328.8,359.7L327.1,359.9L324.5,360L321.9,359.9L320.2,359.7L318.6,359.4L317.3,359L316.1,358.4L315.1,357.7L314.2,356.9L313.5,356L312.9,355L312.5,353.8L312.3,352.4L312.2,350.4L312.6,348.3L313,346.9L313.6,345.7L314.3,344.7L315,343.8L315.9,343L316.9,342.3L318.1,341.7L319.3,341.3L320.7,341L322.2,340.8L324.5,340.7L326.8,340.8L328.3,341L329.7,341.3L330.9,341.7L332.1,342.3L333.1,343L334,343.8L334.7,344.7L335.4,345.7L336,346.9L336.4,348.3Z" fill="#fff" stroke="#1a221c" stroke-width="1.7" stroke-linejoin="round"/>
<path d="M337.5,343.4L337.5,344.6L337.4,345.5L337.3,346.2L337.2,346.9L337,347.4L336.8,347.9L336.5,348.3L336.3,348.7L335.9,349L335.6,349.1L335.1,349.3L334.5,349.3L333.9,349.3L333.4,349.1L333.1,349L332.7,348.7L332.5,348.3L332.2,347.9L332,347.4L331.8,346.9L331.7,346.2L331.6,345.5L331.5,344.6L331.5,343.4L331.6,342.2L331.7,341.3L331.8,340.6L332,339.9L332.2,339.4L332.4,338.9L332.7,338.5L332.9,338.1L333.2,337.8L333.6,337.7L333.9,337.5L334.5,337.5L335.1,337.5L335.4,337.7L335.8,337.8L336.1,338.1L336.3,338.5L336.6,338.9L336.8,339.4L337,339.9L337.2,340.6L337.3,341.3L337.4,342.2Z" fill="#fff" stroke="#1a221c" stroke-width="1.7" stroke-linejoin="round"/>
<path d="M251.2,181.8L251,181.4L250.7,181L250.4,180.4L250,179.8L249.6,179.1L249.1,178.4L248.7,177.6L248.3,176.9L247.9,176.1L247.6,175.4L247.3,174.8L247,174.1L246.8,173.4L246.5,172.7L246.2,172.1L246,171.3L245.8,170.6L245.5,169.9L245.3,169.1L245.2,168.4L245,167.6L244.9,166.9L244.8,166.2L244.7,165.5L244.6,164.8L244.5,164L244.4,163.3L244.4,162.5L244.3,161.8L244.3,161L244.3,160.3L244.3,159.5L244.3,158.7L244.3,158L244.3,157.3L244.4,156.5L244.4,155.8L244.5,155L244.6,154.3L244.7,153.5L244.8,152.8L244.9,152L245,151.3L245.1,150.5L245.3,149.8L245.4,149L245.6,148.3L245.8,147.6L245.9,146.9L246.1,146.2L246.3,145.5L246.5,144.8L246.7,144L246.9,143.3L247.1,142.6L247.3,141.9L247.6,141.2L247.8,140.5L248,139.9L248.3,139.2L248.5,138.6L248.8,137.9L249.1,137.2L249.4,136.6L249.7,136L250,135.3L250.3,134.7L250.7,134.1L251,133.5L251.3,132.9L251.7,132.3L252,131.6L252.4,130.9L252.7,130.3L253,129.7L253.3,129.1L253.6,128.5L253.9,127.8L254.3,127.2L254.6,126.6L254.9,125.9L255.2,125.2L255.6,124.6L255.9,123.9L256.2,123.3L256.6,122.6L256.9,121.9L257.2,121.3L257.5,120.7L257.8,120L258.1,119.4L258.5,118.8L258.8,118.1L259.1,117.5L259.4,116.9L259.7,116.3L260,115.6L260.3,115L260.6,114.3L261,113.7L261.3,113L261.6,112.3L262,111.6L262.3,111L262.6,110.4L263,109.7L263.3,109L263.7,108.4L264,107.7L264.4,107L264.7,106.3L265.1,105.5L265.4,104.9L265.8,104.2L266.1,103.5L266.5,102.8L266.8,102.2L267.1,101.6L267.4,101L267.7,100.5L267.9,100L268.4,99L268.7,98.1L269,97.4L269.3,96.7L269.6,96.1L269.8,95.5L270.1,94.9L270.5,94.3L270.9,93.7L271.3,93.2L271.7,92.6L272.2,92.1L272.6,91.6L273.1,91L273.6,90.4L274.1,89.8L274.7,89.2L275.1,88.7L275.5,88.2L276,87.7L276.4,87.2L276.9,86.7L277.3,86.2L277.8,85.6L278.3,85.1L278.8,84.5L279.3,84L279.8,83.4L280.3,82.9L280.8,82.3L281.3,81.8L281.7,81.2L282.2,80.7L282.7,80.2L283.1,79.6L283.6,79.1L284.1,78.5L284.6,77.9L285.1,77.4L285.6,76.8L286.1,76.3L286.6,75.7L287.1,75.2L287.6,74.6L288.1,74.1L288.6,73.6L289.1,73.1L289.6,72.5L290.1,72L290.6,71.5L291.1,71L291.6,70.5L292.1,70L292.6,69.4L293.2,68.9L293.7,68.4L294.2,67.9L294.8,67.4L295.3,66.9L295.8,66.4L296.3,66L296.8,65.5L297.3,65.1L297.8,64.7L298.3,64.3L298.9,63.8L299.4,63.4L299.9,63L300.4,62.5L301,62.1L301.6,61.6L302.1,61.1L302.7,60.6L303.4,60.1L304,59.5L304.5,59.1L304.9,58.7L305.4,58.2L305.9,57.8L306.4,57.3L306.9,56.8L307.5,56.4L308,55.9L308.6,55.4L309.1,54.9L309.6,54.4L310.2,53.9L310.8,53.4L311.3,52.9L311.9,52.4L312.4,51.9L313,51.4L313.5,50.9L314,50.4L314.6,49.9L315.1,49.5L315.6,49L316.1,48.6L316.7,48.1L317.3,47.6L317.9,47.1L318.4,46.6L319,46.1L319.6,45.7L320.1,45.2L320.7,44.7L321.3,44.3L321.8,43.8L322.4,43.4L322.9,42.9L323.5,42.5L324,42.1L324.6,41.7L325.1,41.2L325.7,40.8L326.2,40.4L326.8,40L327.4,39.6L328,39.2L328.6,38.7L329.2,38.3L329.8,37.9L330.4,37.5L331,37.1L331.6,36.8L332.1,36.4L332.7,36L333.3,35.6L333.9,35.3L334.5,34.9L335.1,34.5L335.7,34.2L336.3,33.8L336.9,33.5L337.5,33.1L338.1,32.7L338.8,32.4L339.4,32L340,31.6L340.7,31.3L341.3,30.9L341.9,30.6L342.6,30.2L343.2,29.9L343.9,29.5L344.5,29.2L345.1,28.9L345.8,28.5L346.4,28.2L347,27.9L347.7,27.5L348.3,27.2L348.9,26.9L349.6,26.5L350.2,26.2L350.8,25.9L351.5,25.5L352.1,25.2L352.7,24.9L353.3,24.5L354,24.2L354.6,23.9L355.2,23.6L355.9,23.3L356.5,22.9L357.1,22.7L357.7,22.4L358.4,22.1L359,21.8L359.7,21.5L360.3,21.2L361,21L361.7,20.7L362.4,20.5L363,20.2L363.7,20L364.4,19.7L365,19.5L365.7,19.3L366.4,19L367.1,18.8L367.7,18.6L368.4,18.4L369,18.2L369.7,18L370.4,17.8L371.1,17.6L371.8,17.4L372.4,17.2L373.1,17L373.8,16.9L374.5,16.7L375.1,16.5L375.8,16.4L376.5,16.2L377.2,16L377.9,15.9L378.6,15.7L379.3,15.6L380,15.4L380.7,15.3L381.3,15.1L382,15L382.7,14.8L383.3,14.7L384,14.5L384.6,14.4L385.3,14.3L386,14.1L386.7,14L387.4,13.9L388.2,13.7L389,13.6L389.8,13.5L390.6,13.3L391.5,13.2L392.1,13.1L392.7,13L393.4,12.9L394,12.8L394.7,12.7L395.4,12.6L396.1,12.5L396.8,12.4L397.5,12.3L398.3,12.3L399,12.2L399.7,12.1L400.5,12L401.2,11.9L402,11.8L402.7,11.7L403.5,11.6L404.3,11.5L405,11.4L405.8,11.3L406.5,11.2L407.2,11.2L408,11.1L408.7,11L409.4,10.9L410.1,10.8L410.9,10.8L411.6,10.7L412.3,10.6L413,10.6L413.8,10.5L414.5,10.4L415.2,10.3L415.9,10.3L416.7,10.2L417.4,10.1L418.1,10.1L418.8,10L419.6,10L420.3,9.9L421,9.8L421.7,9.8L422.4,9.7L423.2,9.6L423.9,9.6L424.6,9.5L425.3,9.5L426,9.4L426.7,9.3L427.5,9.3L428.3,9.2L429,9.1L429.8,9.1L430.6,9L431.4,8.9L432.1,8.8L432.9,8.8L433.7,8.7L434.5,8.6L435.2,8.6L436,8.5L436.7,8.4L437.4,8.4L438.2,8.3L438.8,8.3L439.5,8.2L440.2,8.2L440.8,8.2L441.4,8.1L442,8.1L442.5,8.1L443.5,8.1L444.4,8.1L445.2,8.2L445.9,8.3L446.6,8.4L447.2,8.5L447.8,8.7L448.3,8.8L448.9,8.9L449.5,9L450.2,9.1L450.9,9.2L451.5,9.2L452,9.3L452.5,9.4L453.1,9.5L453.7,9.5L454.3,9.6L455,9.6L455.9,9.7L456.9,9.7L458,9.7L458.5,9.7L459.1,9.7L459.6,9.7L460.2,9.7L460.9,9.6L461.5,9.6L462.2,9.6L462.9,9.5L463.6,9.5L464.3,9.5L465,9.4L465.8,9.4L466.5,9.4L467.3,9.3L468.1,9.3L468.9,9.3L469.7,9.2L470.4,9.2L471.2,9.2L472,9.1L472.8,9.1L473.6,9.1L474.3,9.1L475.1,9.1L475.8,9.1L476.6,9.1L477.3,9.1L478,9.1L478.7,9.1L479.4,9.2L480.2,9.2L480.9,9.2L481.6,9.2L482.3,9.3L483,9.3L483.7,9.3L484.4,9.4L485.2,9.4L485.9,9.4L486.6,9.5L487.3,9.5L488,9.6L488.7,9.6L489.4,9.7L490.2,9.8L490.9,9.8L491.6,9.9L492.3,10L493,10.1L493.7,10.2L494.5,10.3L495.2,10.4L495.9,10.5L496.6,10.6L497.3,10.7L498,10.8L498.7,11L499.4,11.1L500.1,11.3L500.8,11.4L501.4,11.6L502.1,11.7L502.8,11.9L503.5,12.1L504.2,12.2L504.9,12.4L505.6,12.6L506.3,12.8L507,13L507.7,13.2L508.4,13.4L509.1,13.5L509.8,13.7L510.5,13.9L511.2,14.1L511.8,14.3L512.5,14.5L513.2,14.7L513.9,14.9L514.6,15.1L515.3,15.3L516,15.5L516.7,15.7L517.4,15.9L518.1,16.1L518.8,16.3L519.4,16.5L520.1,16.7L520.8,16.9L521.5,17.1L522.2,17.3L522.9,17.5L523.6,17.7L524.2,17.9L524.9,18.1L525.6,18.3L526.3,18.5L527,18.7L527.7,18.9L528.4,19.1L529,19.4L529.7,19.6L530.4,19.8L531.1,20L531.8,20.2L532.5,20.4L533.2,20.6L533.9,20.9L534.6,21.1L535.3,21.3L536,21.5L536.6,21.7L537.3,21.9L538,22.1L538.7,22.3L539.4,22.5L540.1,22.7L540.8,22.9L541.5,23.1L542.2,23.3L542.9,23.5L543.6,23.8L544.3,24L545,24.2L545.7,24.4L546.4,24.6L547.1,24.8L547.8,25L548.5,25.2L549.2,25.4L549.8,25.7L550.5,25.9L551.1,26.1L551.8,26.3L552.4,26.6L553,26.8L553.6,27L554.2,27.2L554.8,27.5L555.4,27.7L556.2,28L556.9,28.4L557.6,28.7L558.3,29L559,29.4L559.6,29.7L560.3,30.1L560.9,30.4L561.5,30.8L562.1,31.1L562.7,31.5L563.3,31.8L563.9,32.2L564.5,32.5L565.1,32.9L565.6,33.3L566.2,33.6L566.7,34L567.3,34.3L567.9,34.7L568.4,35L569,35.4L569.7,35.8L570.3,36.2L571,36.6L571.6,37L572.3,37.4L572.9,37.9L573.5,38.3L574.2,38.7L574.8,39.1L575.4,39.5L576,39.9L576.6,40.3L577.2,40.7L577.8,41.2L578.4,41.6L578.9,42L579.5,42.4L580,42.8L580.5,43.2L581.1,43.7L581.7,44.2L582.3,44.7L582.8,45.2L583.3,45.6L583.8,46.1L584.3,46.6L584.8,47.1L585.2,47.5L585.7,48L586.2,48.6L586.7,49.1L587.2,49.7L587.7,50.3L588.3,50.9L588.7,51.4L589.1,51.8L589.6,52.3L590,52.8L590.5,53.4L590.9,53.9L591.4,54.4L591.8,54.9L592.3,55.5L592.7,56.1L593.2,56.6L593.7,57.2L594.2,57.8L594.6,58.3L595.1,58.9L595.6,59.5L596,60.1L596.5,60.7L597,61.3L597.4,61.9L597.9,62.5L598.3,63L598.7,63.6L599.2,64.2L599.6,64.7L600,65.3L600.4,65.8L600.8,66.4L601.3,67L601.7,67.6L602.1,68.1L602.5,68.7L603,69.3L603.4,69.9L603.8,70.5L604.2,71.1L604.7,71.7L605.1,72.3L605.5,72.9L605.9,73.5L606.3,74.1L606.8,74.8L607.2,75.4L607.6,76L608,76.6L608.4,77.2L608.8,77.8L609.2,78.4L609.6,79.1L610,79.7L610.4,80.4L610.8,81L611.3,81.7L611.7,82.4L612.1,83L612.5,83.7L612.9,84.4L613.3,85L613.7,85.7L614.1,86.3L614.5,86.9L614.9,87.6L615.2,88.2L615.6,88.8L615.9,89.3L616.3,89.9L616.6,90.4L616.9,90.9L617.2,91.4L617.7,92.3L618.2,93L618.6,93.8L619,94.4L619.4,95L619.8,95.6L620.1,96.2L620.4,96.7L620.7,97.2L621,97.8L621.3,98.3L621.7,98.9L622,99.5L622.4,100.1L622.7,100.8L623.1,101.4L623.4,102.1L623.8,102.7L624.1,103.4L624.5,104L624.8,104.7L625.1,105.3L625.5,106L625.8,106.6L626.2,107.3L626.5,108L626.8,108.6L627.1,109.2L627.4,109.8L627.7,110.4L628,111L628.3,111.6L628.6,112.2L628.9,112.8L629.2,113.5L629.5,114.1L629.8,114.8L630.1,115.6L630.4,116.4L630.7,117.2L630.9,117.8L631.1,118.4L631.3,119L631.5,119.6L631.7,120.3L631.9,120.9L632.1,121.6L632.3,122.3L632.5,123L632.7,123.7L632.9,124.5L633.1,125.2L633.3,125.9L633.5,126.7L633.7,127.4L633.9,128.1L634.1,128.8L634.3,129.5L634.5,130.2L634.7,130.9L634.8,131.6L635,132.2L635.2,133L635.4,133.7L635.6,134.5L635.7,135.2L635.9,135.9L636.1,136.6L636.2,137.3L636.4,138L636.5,138.7L636.7,139.4L636.8,140.1L637,140.8L637.1,141.5L637.2,142.2L637.4,142.9L637.5,143.6L637.7,144.3L637.8,145L637.9,145.7L638.1,146.4L638.2,147.2L638.4,147.9L638.5,148.6L638.6,149.4L638.7,150.1L638.9,150.8L639,151.6L639.1,152.3L639.3,153L639.4,153.7L639.5,154.5L639.6,155.2L639.8,155.9L639.9,156.6L640.1,157.3L640.2,158L640.4,158.7L640.5,159.5L640.7,160.2L640.8,160.9L641,161.7L641.2,162.4L641.3,163.1L641.5,163.8L641.7,164.5L641.8,165.3L642,166L642.2,166.6L642.4,167.3L642.5,168L642.7,168.7L642.8,169.3L643,170L643.2,170.8L643.4,171.5L643.6,172.3L643.7,173L643.9,173.7L644.1,174.4L644.3,175.1L644.4,175.7L644.6,176.4L644.8,177.1L645,177.8L645.1,178.5L645.3,179.3L645.5,180L645.7,180.7L645.8,181.3L646,182L646.1,182.7L646.3,183.4L646.4,184.1L646.6,184.8L646.8,185.5L646.9,186.2L647.1,186.9L647.2,187.6L647.4,188.3L647.5,189L647.7,189.7L647.8,190.3L648,191L648.2,191.7L648.4,192.5L648.5,193.2L648.7,194L648.9,194.7L649.1,195.4L649.3,196.1L649.4,196.8L649.6,197.5L649.8,198.2L650,198.9L650.2,199.6L650.3,200.3L650.5,201L650.7,201.7L650.9,202.4L651.1,203.1L651.3,203.7L651.4,204.4L651.6,205L651.8,205.7L652,206.4L652.2,207L652.3,207.7L652.5,208.5L652.7,209.2L652.8,210L652.9,210.6L653,211.2L653.1,211.9L653.2,212.5L653.3,213.2L653.4,213.8L653.5,214.5L653.5,215.2L653.6,215.9L653.7,216.6L653.8,217.3L653.8,218.1L653.9,218.8L653.9,219.6L654,220.4L654,221.2L654,222L654,222.6L654,223.3L654,223.9L654,224.6L654,225.2L654,225.9L654,226.6L654,227.3L654,228L653.9,228.8L653.9,229.5L653.9,230.2L653.8,230.9L653.8,231.7L653.8,232.4L653.7,233.1L653.7,233.9L653.6,234.6L653.6,235.3L653.5,236.1L653.4,236.8L653.4,237.5L653.3,238.2L653.2,238.9L653.2,239.6L653.1,240.3L653,241L652.9,241.7L652.8,242.4L652.7,243.1L652.6,243.8L652.5,244.5L652.4,245.2L652.3,245.9L652.2,246.6L652.1,247.3L652,248L651.8,248.7L651.7,249.4L651.6,250.1L651.4,250.8L651.3,251.5L651.2,252.2L651,252.9L650.9,253.6L650.7,254.3L650.5,255L650.4,255.6L650.2,256.3L650.1,257L649.9,257.7L649.7,258.3L649.6,259L649.4,259.7L649.2,260.3L649,261L648.8,261.7L648.6,262.4L648.4,263L648.2,263.7L648,264.4L647.8,265L647.6,265.7L647.4,266.4L647.1,267.1L646.9,267.7L646.7,268.4L646.4,269.1L646.2,269.7L645.9,270.4L645.6,271L645.4,271.7L645.1,272.3L644.8,273L644.5,273.7L644.2,274.3L643.9,275L643.6,275.6L643.3,276.3L643,277L642.7,277.6L642.4,278.3L642,278.9L641.7,279.6L641.4,280.2L641,280.9L640.7,281.5L640.4,282.1L640,282.8L639.7,283.4L639.3,284L639,284.6L638.6,285.2L638.3,285.8L637.9,286.4L637.5,287L637.1,287.6L636.7,288.2L636.3,288.8L635.9,289.4L635.5,290L635.1,290.6L634.6,291.2L634.2,291.8L633.8,292.3L633.4,292.9L632.9,293.4L632.5,294L632.1,294.5L631.6,295.1L631.2,295.6L630.8,296.1L630.3,296.7L629.9,297.2L629.5,297.7L629,298.3L628.6,298.8L628.2,299.3L627.7,299.9L627.3,300.4L626.9,301L626.4,301.5L626,302.1L625.5,302.6L625.1,303.2L624.7,303.7L624.3,304.2L623.8,304.7L623.4,305.3L622.9,305.8L622.5,306.3L622,306.8L621.6,307.3L621.1,307.9L620.6,308.4L620.1,308.9L619.6,309.4L619.1,310L618.6,310.5L618.1,311L617.6,311.4L617.1,311.9L616.6,312.4L616.1,312.9L615.6,313.4L615.1,313.8L614.5,314.3L614,314.8L613.5,315.3L612.9,315.8L612.4,316.2L611.8,316.7L611.2,317.2L610.7,317.7L610.1,318.2L609.6,318.6L609,319.1L608.4,319.6L607.9,320L607.3,320.5L606.8,320.9L606.2,321.4L605.7,321.8L605.1,322.3L604.5,322.7L604,323.2L603.4,323.7L602.8,324.2L602.2,324.6L601.6,325.1L601,325.5L600.5,326L599.9,326.5L599.3,326.9L598.7,327.3L598.1,327.8L597.6,328.2L597,328.6L596.4,329.1L595.8,329.5L595.2,329.9L594.6,330.3L594.1,330.7L593.5,331L592.9,331.4" fill="none" stroke="#1a221c" stroke-width="1.2" stroke-linejoin="round" stroke-linecap="round"/>
<path d="M592.9,331.4L592.3,331.8L591.6,332.2L590.9,332.6L590.2,333L589.6,333.4L588.9,333.8L588.2,334.1L587.5,334.5L586.8,334.9L586.1,335.2L585.5,335.5L584.8,335.9L584.1,336.2L583.5,336.5L582.9,336.8L582.3,337L581.7,337.3L581.1,337.5L580.5,337.7L580,337.9L579.1,338.2L578.4,338.3L577.8,338.4L577.2,338.5L576.7,338.4L576.1,338.4L575.5,338.4L574.9,338.3L574.1,338.3L573.3,338.4L572.2,338.5L571.7,338.6L571.1,338.6L570.5,338.7L569.9,338.8L569.3,338.9L568.6,339L567.9,339.1L567.2,339.2L566.5,339.3L565.7,339.4L565,339.6L564.2,339.7L563.4,339.8L562.7,339.9L561.9,340L561.1,340.2L560.4,340.3L559.6,340.4L558.9,340.5L558.2,340.7L557.4,340.8L556.7,340.9L556.1,341.1L555.4,341.2L554.8,341.3L554,341.5L553.2,341.6L552.5,341.8L551.8,342L551,342.2L550.3,342.4L549.7,342.6L549,342.7L548.3,342.9L547.6,343.1L547,343.3L546.3,343.5L545.7,343.7L545,343.8L544.4,344L543.7,344.2L543.1,344.3L542.4,344.5L541.7,344.6L541,344.7L540.3,344.9L539.6,345L539,345.1L538.3,345.2L537.7,345.3L537,345.4L536.4,345.5L535.7,345.6L535.1,345.7L534.4,345.8L533.7,345.8L532.9,345.9L532.2,346L531.4,346L530.5,346L529.6,346.1L528.7,346.1L528.1,346.1L527.5,346.1L526.9,346.1L526.3,346.1L525.7,346.1L525,346L524.4,346L523.7,346L523,345.9L522.3,345.9L521.6,345.9L520.9,345.8L520.2,345.8L519.5,345.7L518.8,345.7L518,345.6L517.3,345.6L516.6,345.5L515.8,345.5L515.1,345.4L514.3,345.4L513.6,345.4L512.8,345.3L512.1,345.3L511.3,345.3L510.6,345.2L509.9,345.2L509.1,345.2L508.4,345.2L507.7,345.2L507,345.2L506.3,345.2L505.6,345.2L504.8,345.2L504.1,345.3L503.4,345.3L502.6,345.3L501.9,345.4L501.1,345.4L500.4,345.4L499.6,345.5L498.8,345.5L498.1,345.6L497.3,345.6L496.6,345.7L495.8,345.7L495.1,345.8L494.3,345.8L493.6,345.9L492.9,346L492.1,346L491.4,346.1L490.7,346.1L490.1,346.2L489.4,346.3L488.7,346.3L488.1,346.4L487.5,346.5L486.9,346.5L486.3,346.6L485.7,346.6L485.2,346.7L484.2,346.8L483.2,347L482.3,347.1L481.5,347.2L480.8,347.4L480.1,347.5L479.4,347.7L478.7,347.8L478.1,348L477.5,348.1L476.9,348.3L476.3,348.4L475.7,348.6L475,348.8L474.3,348.9L473.6,349L472.9,349.2L472.1,349.4L471.4,349.5L470.7,349.7L470,349.8L469.3,350L468.5,350.1L467.8,350.3L467.1,350.4L466.4,350.6L465.7,350.7L464.9,350.9L464.2,351L463.5,351.1L462.8,351.2L462.1,351.3L461.3,351.4L460.6,351.6L459.9,351.7L459.1,351.8L458.4,351.9L457.7,352L457,352.1L456.2,352.1L455.5,352.2L454.8,352.2L454.1,352.2L453.3,352.2L452.6,352.2L451.9,352.2L451.1,352.1L450.4,352L449.7,351.9L449,351.8L448.2,351.7L447.5,351.5L446.8,351.4L446.1,351.2L445.3,351L444.6,350.8L443.9,350.6L443.1,350.4L442.4,350.2L441.7,350L441,349.8L440.3,349.6L439.6,349.4L438.9,349.2L438.2,349L437.5,348.7L436.7,348.5L436,348.3L435.3,348L434.6,347.7L434,347.4L433.3,347.1L432.7,346.8L432,346.5L431.5,346.1L430.9,345.7L430.3,345.2L429.8,344.8L429.2,344.2L428.7,343.7L428.2,343.1L427.7,342.5L427.3,341.9L426.8,341.3L426.4,340.7L426,340.1L425.6,339.4L425.3,338.8L424.9,338.2L424.6,337.6L424.3,337L424,336.2L423.7,335.4L423.4,334.6L423.2,333.8L423,332.9L422.8,332.1L422.7,331.3L422.6,330.6L422.5,329.9L422.4,329.2L422.3,328.7L422.2,328.3" fill="none" stroke="#3d6349" stroke-width="1.0" stroke-linejoin="round" stroke-linecap="round"/>
<path d="M427,8.7L422.2,12.5L414.5,14.8L408,17.5L404,21.5L403,24L402.8,24.5L402.1,25L401,25.5L399.8,25.8L398.7,26L397.9,26.1L398,26L399.1,25.8L400.6,25.8L402.3,25.8L404.1,25.9L405.9,26.2L407.4,26.5L408.5,27L409.2,27.6L409.4,28.3L409.1,29L408.3,29.7L407,30.4L405.4,31L403.7,31.6L402,32L400.4,32.3L399.1,32.4L398.2,32.5L397.8,32.5L398,32.3L398.6,32.2L399.8,32.1L401.3,32L403,32.1L404.8,32.2L406.5,32.4L408.2,33.8L409.2,34.6L409.7,35.4L409.7,36.1L409.2,36.7L408.2,37.2L406.8,37.5L405.1,37.7L403.3,37.8L401.5,37.8L399.9,37.7L398.7,37.5L397.8,37.3L397.5,37.2L397.6,37.1L398.3,37.2L399.5,37.4L400.9,37.7L402.6,38.1L404.3,38.7L406,39.4L407.3,40.1L408.3,40.9L408.8,41.6L408.8,42.3L408.3,42.9L407.2,43.4L405.8,43.7L404.1,44L402.3,44L400.5,44L399,43.9L397.7,43.7L396.9,43.6L396.7,42.6L396.9,42.6L397.6,42.7L398.7,43L400.1,43.6L401.7,44.3L403.3,45.1L404.8,46L406,46.9L406.9,47.8L407.3,48.6L407.1,49.3L406.5,49.8L405.4,50.1L404,50.3L402.3,50.2L400.5,50L398.7,49.8L397.2,49.4L395.9,49.1L395.1,48.8L394.9,48.6L395.1,48.6L395.8,48.8L396.9,49.1L398.3,49.6L399.9,50.3L401.6,51.1L403,52L404.3,53L405.1,53.8L405.5,54.6L405.3,55.3L404.7,55.8L403.4,56.5L401.9,56.5L400.2,56.3L398.4,56L396.7,55.6L395.2,55.1L394,54.7L393.3,54.3L393,54.1L393.2,54.1L394,54.4L395.1,54.8L396.4,55.4L398,56.3L399.5,57.2L400.9,58.2L402.1,59.2L402.8,60.2L403.1,61L402.9,61.7L402.2,62.1L401.1,62.4L399.6,62.4L397.9,62.2L396.1,61.9L394.4,61.4L393.2,61L392.9,60.8L393.2,60.9L393.8,61.2L394.6,61.7L395.4,62.3L396,63L395.2,63.2L394.5,63.4L394.1,63.7L393.9,64.2L394.1,64.8L394.4,65.6L394.8,66.3L395.1,67L395.2,67.6L393.8,68.9L393.3,68.6L392.8,68.1L392.3,67.5L391.8,66.8L391.3,66.3L390.8,66.1L390.3,66.2L389.8,66.6L389.2,67.2L388.7,67.9L388.2,68.5L387.7,68.8L387.2,68.9L386.7,68.6L386.2,68L385.7,67.4L385.2,66.7L383.8,66.6L383.4,66.9L383.1,67.3L383.1,68L383.2,68.9L383.3,69.7L383.3,70.4L383.1,71L382.7,71.3L382.1,71.4L381.3,71.3L380.4,71.2L379.6,71.1L379,71.2L378.6,71.6L378.3,72.3L378.5,73L378.7,73.8L379,74.6L379.1,75.3L379,75.8L378.6,76.1L377.9,76.3L377.1,76.4L376.3,76.4L375.6,76.6L375,76.8L374.7,77.2L374.7,77.8L374.9,78.6L375.2,79.4L375.5,80.1L375.5,80.8L375.4,81.3L374.9,81.6L374.3,81.8L373.5,81.8L372.6,81.9L371.9,82L371.4,82.3L371.2,82.7L372,83.9L372,84.6L372.2,85.2L372.4,85.6L372.9,85.9L373.5,86L374.2,86L374.9,86.1L375.5,86.2L375.9,86.5L376.3,87.2L376.1,87.8L375.9,88.5L375.8,89.1L375.7,89.7L375.9,90.2L376.3,90.6L376.9,90.9L377.6,91.3L377.8,91.9L377.9,92.5L377.7,93L377.3,93.4L376.7,93.7L376.1,94.1L375.6,94.4L375.2,94.9L375.1,95.4L375.3,96L375.6,96.6L375.8,97.3L376,97.9L376,98.4L375.7,98.9L375.2,99.3L374.6,99.6L374,100L373.5,100.4L373.3,100.8L373.3,101.4L373.6,101.9L373.7,102.6L373.7,103.3L373.7,103.8L373.4,104.3L372.9,104.6L372.3,104.8L371.7,104.9L371,105.1L370.6,105.4L370.3,105.8L370.2,106.4L370.2,107L370.3,107.7L370.4,108.3L370.3,108.9L370,109.3L369.5,109.6L368.9,109.8L368.3,109.9L367.6,110.1L367.2,110.4L366.9,110.8L366.8,111.4L366.9,112.1L367,112.7L367.1,113.2L367.2,113.8L367,114.2L366.6,114.6L366,115L365.4,115.3L364.9,115.7L364.5,116.1L364.4,116.6L364.5,117.1L364.8,117.7L365,118.4L365.2,119L365.3,119.5L365,120L364.6,120.3L364,120.7L363.4,121L362.9,121.4L362.6,121.8L362.5,122.3L362.6,122.9L362.9,123.5L363.2,124.1L363.3,124.7L363.3,125.2L363.1,125.7L362.7,126.1L362.1,126.4L361.5,126.7L361,127.1L360.7,127.5L360.6,128.1L360.8,128.6L361,129.2L361.3,129.9L361.5,130.5L361.5,131L361.2,131.4L360.8,131.8L360.2,132.1L359.6,132.5L359.1,132.8L358.8,133.3L358.8,133.8L358.9,134.4L359.2,135L359.5,135.6L359.6,136.2L359.6,136.7L359.3,137.1L358.8,137.5L358.2,137.8L357.7,138.2L357.2,138.5L356.9,139L356.8,139.5L357,140.1L357.3,140.7L357.5,141.3L357.7,141.9L357.6,142.4L357.4,142.8L356.9,143.2L356.3,143.5L355.7,143.9L355.2,144.2L355,144.7L354.9,145.2L355.1,145.8L355.4,146.4L355.7,147.1L355.8,147.7L355.8,148.2L355.4,148.6L354.9,149L354.3,149.4L353.7,149.8L353.3,150.2L353.2,150.7L353.3,151.3L353.6,152L353.9,152.6L354.2,153.2L354.2,153.8L354,154.3L353.5,154.7L352.9,155.1L352.3,155.6L351.9,156L351.8,156.6L351.9,157.1L352.4,157.8" fill="none" stroke="#1a221c" stroke-width="1.0" stroke-linejoin="round" stroke-linecap="round"/>
<path d="M562,262L562.4,262L563.1,261.4L563.8,260.5L564.7,259.3L565.6,258.1L566.4,257L567.1,256.4L567.6,256.2L567.9,256.7L567.9,257.6L566.3,258.6L566.7,260.1L567,261.6L567.4,262.7L567.7,263.4L568.1,263.6L568.6,263.3L569,262.6L569.4,261.3L569.9,259.7L570.4,258.1L570.8,256.7L571.2,255.8L571.7,255.5L572,255.9L572.4,256.9L572.8,258.4L573.1,260L573.4,261.6L573.8,262.9L574.1,263.6L574.5,263.7L574.9,263.4L575.2,262.5L575.4,261.1L575.5,259.4L575.7,257.6L575.9,256.1L576.1,255.1L576.5,254.7L577,255.1L577.5,256.1L578.1,257.6L578.8,259.2L579.4,260.8L580,262L580.5,262.7L580.9,262.8L581.2,262.4L581.5,261.4L581.7,259.8L581.8,257.9L581.9,255.9L582.1,254.2L582.3,253.1L582.7,252.8L583.2,253.2L583.7,254.4L584.4,256.1L585.1,257.9L585.7,259.7L586.3,261L586.8,261.7L587.2,261.8L587.5,261.4L587.6,260.4L587.6,259L587.5,257.4L587.4,255.7L587.3,254.3L587.5,253.3L587.8,253L588.3,253.3L589,254.2L589.8,255.5L590.7,256.9L591.6,258.3L592.3,259.3L592.9,259.8L593.3,259.8L593.6,259.3L593.7,258.2L593.6,256.6L593.4,254.7L593.2,252.8L593.1,251.2L593.2,250.1L593.5,249.8L594,250.2L594.8,251.3L595.7,252.8L596.7,254.5L597.6,256.1L598.4,257.2L599,257.8L599.4,257.7L599.6,257.4L599.7,256.9L599.7,256.2L599.6,255.5L599.6,254.7L599.6,254.1L599.7,253.6L600,253.3L600.4,253.2L601,253.3L601.7,253.5L602.4,253.7L603,254L603.6,254.1L604.1,254L604.4,253.8L604.6,253.3L604.5,252.5L604.1,251.4L603.7,250.2L603.3,249L603,248L602.9,247.2L603.1,246.9L603.7,247L604.5,247.4L605.6,248.1L606.7,248.8L607.7,249.5L608.5,249.9L609.1,250L609.4,249.8L609.3,249.2L608.6,248.2L607.5,247L606.1,245.6L604.8,244.2L603.7,243L603.2,242.1L603.3,241.7L604.1,241.8L605.4,242.2L607.1,242.9L609,243.6L610.6,244.3L612,244.7L612.7,244.8L613,244.5L613,243.9L612.5,243.1L611.6,242.1L610.6,240.9L609.6,239.7L608.9,238.7L608.5,238L608.7,237.6L609.3,237.6L610.4,237.9L611.8,238.3L613.3,238.8L614.7,239.3L615.7,239.5L616.4,239.5L616.7,239.2L616.5,238.6L615.8,237.6L614.7,236.4L613.6,234.7L612.4,233.2L611.6,232L611.1,231.2L611.3,230.8L612.1,230.9L613.4,231.5L615.1,232.3L616.8,233.1L618.3,233.9L619.6,234.3L620.3,234.4L620.6,234.1L620.7,233.7L620.6,233.1L620.3,232.4L620,231.6L619.7,230.8L619.5,230.2L619.5,229.6L619.7,229.3L620.2,229.2L620.9,229.2L621.7,229.3L622.5,229.5L623.3,229.6L623.9,229.6L624.3,229.4L624.6,229.1L624.6,228.6L624.2,227.8L623.6,226.8L622.8,225.7L622.2,224.6L621.7,223.7L621.5,223.1L621.7,222.7L622.4,222.7L623.4,223L624.5,223.4L625.8,223.9L626.9,224.3L627.8,224.5L628.3,224.4L628.6,224.1L628.6,223.6L628.4,222.9L628,222.1L627.5,221.2L627,220.3L626.8,219.6L626.7,219L627,218.7L627.5,218.6L628.3,218.8L629.3,219L630.2,219.3L631.1,219.5L631.8,219.5L632.3,219.4L632.5,219L632.5,218.5L632,217.6L631.3,216.5L630.5,215.4L629.7,214.3L629.2,213.3L629,212.7L629.3,212.4L630,212.4L631.1,212.8L632.3,213.3L633.7,213.8L634.7,214.5L635.6,214.4L636.1,214.2L636.2,213.9L636,213.3L635.3,212.6L634.3,211.7L633.2,210.8L632.1,209.9L631.4,209.1L631,208.5L631.2,208.2L632,208L633.1,208.1L634.5,208.3L636,208.5L637.3,208.6L638.2,208.6L638.7,208.4L638.8,208L638.8,207.5L638.6,207L638.3,206.4L637.9,205.8L637.5,205.2L637.3,204.7L637.2,204.2L637.4,203.9L637.9,203.6L638.4,203.4L639.1,203.3L639.9,203.2L640.5,203L641,202.8L641.3,202.5L641.4,202.1L641.2,201.7L640.6,201.2L639.9,200.7L639,200.2L638.3,199.7L637.7,199.2L637.4,198.8L637.6,198.4L638,198L638.8,197.7L639.7,197.4L640.6,197.2L641.4,196.9L642,196.5L642.3,196.2L642.3,195.8L642,195.3L641.4,194.8L640.5,194.3L639.6,193.8L638.7,193.3L638.1,192.8L637.8,192.3L638,192L638.5,191.6L639.3,191.3L640.3,191.1L641.4,190.8L642.2,190.5L642.8,190.2L643.1,189.8L643.1,189.4L642.4,188.9L641.1,188.3L639.4,188.1L637.5,187.6L635.8,187.1L634.5,186.7L633.9,186.3L634.1,185.9L635.1,185.5L636.6,185.2L638.5,184.8L640.4,184.5L642,184.2L643.1,183.8L643.5,183.4L643.4,183L642.7,182.6L641.6,182.1L640,181.7L638.3,181.2L636.8,180.8L635.7,180.3L635.2,179.9L635.4,179.5L636.3,179.1L637.7,178.8L639.4,178.4L641.1,178.1L642.4,177.8L643.4,177.4L643.7,177L643.7,176.6L643.4,176.2L642.8,175.8L642,175.3L641.2,174.9" fill="none" stroke="#1a221c" stroke-width="1.0" stroke-linejoin="round" stroke-linecap="round"/>
<path d="M358.9,161.1L364.7,158.2L371.9,155.3L374.3,156.7L380.6,155.8L383,158.2L386.9,154.3L394.6,148L395.6,152.4L400.4,147.6L404.8,144.7L407.2,146.1L412,141.3L415.9,141.8L417.8,140.3L419.7,142.7L422.6,140.8L424.6,142.7L428.4,143.2L430,142.1L433.5,145L438.8,145.6L440.6,147.4L446.5,150.9L453.6,149.2L457.1,148.6L458.3,152.1L461.9,151.5L463,153.9L470.1,156.8L473.7,156.2L476.6,159.2L481.9,163.3L486.6,168L489,172.8L493.7,173.3L496.1,176.3L497.8,182.2L497.3,186.9L500.8,183.4L505.5,182.2L510,183.4L510.5,189.8L506.2,194L507.3,201.6L512.7,205.9L513.7,214.5L514,221.5L514,238.7L517.3,245L524.8,252.6L530.2,250.5L536.6,248.3L547.4,247.2L561.3,246.2L563.5,251.5L564.5,262.3L563.7,266.4L559.4,277.2L553,287.9L544.4,298.6L536.9,305L531.5,309.3L527.2,315.8L516.5,322.2L501.5,333L484.3,338.3L468.3,339.4L467,330L464.2,315.6" fill="none" stroke="#1a221c" stroke-width="1.1" stroke-linejoin="round" stroke-linecap="round"/>
<path d="M437.8,273.6L446,270L457,271.8L462.4,279.1L466.1,291.9L464.2,304.6L459.7,315.6L449.7,317.4L438.7,315.6L432.4,301.9L436.9,291.9L436,282.8Z" fill="none" stroke="#1a221c" stroke-width="1.0" stroke-linejoin="round" stroke-linecap="round"/>
<path d="M437,289L439,293L442,294.5L443.5,298L447,299.5L449,303L452.5,304L455,307.5L459,309.5" fill="none" stroke="#1a221c" stroke-width="0.9" stroke-linejoin="round" stroke-linecap="round"/>
<path d="M438.7,315.6L449.7,317.4L452.2,315.8L444,330L430.7,344.7L433,330Z" fill="none" stroke="#1a221c" stroke-width="0.9" stroke-linejoin="round" stroke-linecap="round"/>
<path d="M297.5,191.4L301.3,189.5L307.1,188.5L311,189.5L314.9,192.4L316.8,186.6L318.7,183.7L319.7,194.3L320.7,205.9L323.6,213.6L324.5,223.3L321.6,233L320.7,244.5L321.6,254.2" fill="none" stroke="#1a221c" stroke-width="1.1" stroke-linejoin="round" stroke-linecap="round"/>
<path d="M324,253L330.3,255.2L333.7,263.7L340.6,272.3L347.5,280.9L341,286.6L336.3,291.4L331.6,296L322.2,303.2L308,310.2L293.8,317.3L286.8,318.5L283.2,310.2L279.7,298.4L276.1,284.3L272.6,272.5L265.5,267.8L260.8,261.9L262,258.3L267.9,252.4L274.3,250.3L282,246.5L289.8,240.7L293.6,231L295.6,219.4L296.5,204L297.5,191.4" fill="none" stroke="#1a221c" stroke-width="1.0" stroke-linejoin="round" stroke-linecap="round"/>
<path d="M324,253L340,252.5L356,252L380,254.5L400,257.5L413,259.6" fill="none" stroke="#1a221c" stroke-width="1.3" stroke-linejoin="round" stroke-linecap="round"/>
<path d="M358,160L359,162.2L357,183.7L356.3,207.3L354.8,230L356,252" fill="none" stroke="#1a221c" stroke-width="0.9" stroke-linejoin="round" stroke-linecap="round"/>
<path d="M322.8,254.2L323.6,238.7L326.5,229L325.5,213.6L322.6,194.3L321.6,184.7" fill="none" stroke="#1a221c" stroke-width="1.1" stroke-linejoin="round" stroke-linecap="round"/>
<path d="M330.3,255.2L333.7,263.7L340.6,272.3L347.5,280.9L354.3,279.2L364.6,277.5L376.7,277.5L388.7,280.9L399,285.2L405.8,286L411,284.3L417.9,279.2L423,275.8L428.2,274L431.6,275.8L435,279.2L437.8,273.6" fill="none" stroke="#1a221c" stroke-width="1.0" stroke-linejoin="round" stroke-linecap="round"/>
<path d="M228,238.7L226.1,243.9L225.5,250.9L225.5,259.3L229,262L233.1,266.2L235.9,271.8L237.3,277.4L238,286.3L236.7,290.2L231.5,292.7L223.8,294L216,294L212.2,296L211.5,299.2L213.5,304.3L215.4,310.8L215.4,318.5L213.5,326.2L210.2,332.7L207.7,339.1L206,345" fill="none" stroke="#1a221c" stroke-width="1.1" stroke-linejoin="round" stroke-linecap="round"/>
<path d="M262.7,190.4L266,197L270,204L273.3,204" fill="none" stroke="#1a221c" stroke-width="1.0" stroke-linejoin="round" stroke-linecap="round"/>
<path d="M532.5,251 L531.3,246 L532.8,241.8 L535.6,242.8 L534.4,246.5 L535.8,251Z" fill="#fdf6d8" stroke="#1a221c" stroke-width="0.8"/>
<path d="M537.2,289 Q542.5,288 540.2,283.8" fill="none" stroke="#1a221c" stroke-width="1.3"/>
<path d="M499,262 Q509,259.5 513,251" fill="none" stroke="#1a221c" stroke-width="1.1"/>
<line x1="259" y1="82" x2="296" y2="101" stroke="#bb2040" stroke-width="1.6"/>
<line x1="606.7" y1="38.5" x2="543" y2="78.6" stroke="#bb2040" stroke-width="1.6"/>
<line x1="221.5" y1="132.6" x2="335.4" y2="186.3" stroke="#bb2040" stroke-width="1.6"/>
<line x1="214.6" y1="166.6" x2="290.7" y2="214.6" stroke="#bb2040" stroke-width="1.6"/>
<line x1="214" y1="201" x2="233.3" y2="216.2" stroke="#bb2040" stroke-width="1.6"/>
<line x1="191.4" y1="256.5" x2="279.5" y2="220.5" stroke="#bb2040" stroke-width="1.6"/>
<line x1="194.6" y1="280.5" x2="258.4" y2="318.5" stroke="#bb2040" stroke-width="1.6"/>
<line x1="589.6" y1="300.6" x2="643.9" y2="300.1" stroke="#bb2040" stroke-width="1.6"/>
<line x1="304.5" y1="272" x2="419.6" y2="377.7" stroke="#bb2040" stroke-width="1.6"/>
<line x1="204.5" y1="411.7" x2="292.1" y2="415" stroke="#bb2040" stroke-width="1.6"/>
<text x="205.8" y="81.2" textLength="46.3" lengthAdjust="spacingAndGlyphs">Frontal</text>
<text x="612" y="41.9" textLength="49.2" lengthAdjust="spacingAndGlyphs">Parietal</text>
<text x="154" y="132.6" textLength="62.7" lengthAdjust="spacingAndGlyphs">Sphenoid</text>
<text x="149.3" y="169.8" textLength="55.8" lengthAdjust="spacingAndGlyphs">Ethmoid</text>
<text x="175.2" y="201.9" textLength="35.3" lengthAdjust="spacingAndGlyphs">Nasal</text>
<text x="410.6" y="229.1" textLength="62.5" lengthAdjust="spacingAndGlyphs">Temporal</text>
<text x="129.5" y="261.6" textLength="55.3" lengthAdjust="spacingAndGlyphs">Lacrimal</text>
<text x="142.5" y="285.1" textLength="46.6" lengthAdjust="spacingAndGlyphs">Maxilla</text>
<text x="651.1" y="303.2" textLength="58.8" lengthAdjust="spacingAndGlyphs">Occipital</text>
<text x="425.5" y="385.6" textLength="71" lengthAdjust="spacingAndGlyphs">Zygomatic</text>
<text x="133.7" y="411.8" textLength="62.2" lengthAdjust="spacingAndGlyphs">Mandible</text>
</svg>
</body></html>
